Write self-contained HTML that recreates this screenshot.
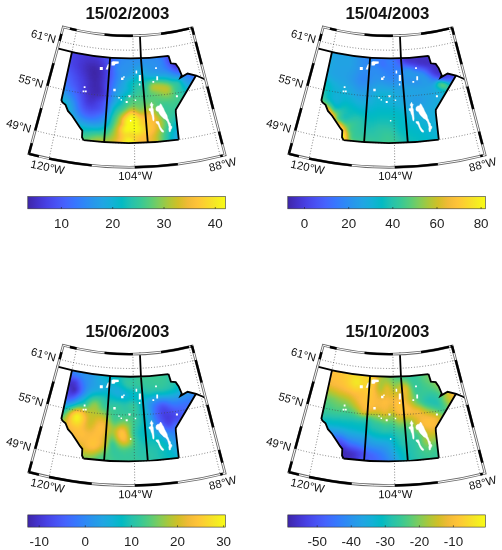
<!DOCTYPE html>
<html><head><meta charset="utf-8"><title>Maps</title><style>html,body{margin:0;padding:0;background:#fff}svg{display:block}</style></head><body>
<svg width="502" height="550" viewBox="0 0 502 550" font-family="&quot;Liberation Sans&quot;, sans-serif">
<defs>
<linearGradient id="pg" x1="0" x2="1" y1="0" y2="0"><stop offset="0%" stop-color="#3e26a8"/><stop offset="4.8%" stop-color="#4332cb"/><stop offset="9.5%" stop-color="#4741e5"/><stop offset="14.3%" stop-color="#4852f4"/><stop offset="19%" stop-color="#4563fd"/><stop offset="23.8%" stop-color="#3875fe"/><stop offset="28.6%" stop-color="#2e87f7"/><stop offset="33.3%" stop-color="#2797eb"/><stop offset="38.1%" stop-color="#20a5e3"/><stop offset="42.9%" stop-color="#12b1d6"/><stop offset="47.6%" stop-color="#02bac3"/><stop offset="52.4%" stop-color="#24c1ae"/><stop offset="57.1%" stop-color="#37c897"/><stop offset="61.9%" stop-color="#57cc7a"/><stop offset="66.7%" stop-color="#81cc59"/><stop offset="71.4%" stop-color="#abc739"/><stop offset="76.2%" stop-color="#d1bf27"/><stop offset="81%" stop-color="#f0ba36"/><stop offset="85.7%" stop-color="#fec338"/><stop offset="90.5%" stop-color="#fad62d"/><stop offset="95.2%" stop-color="#f5e924"/><stop offset="100%" stop-color="#f9fb15"/></linearGradient>
<filter id="cm" filterUnits="userSpaceOnUse" x="40" y="36" width="180" height="124" color-interpolation-filters="sRGB"><feGaussianBlur stdDeviation="1.6"/><feComponentTransfer><feFuncR type="table" tableValues="0.242 0.250 0.258 0.265 0.271 0.275 0.278 0.280 0.281 0.281 0.280 0.276 0.270 0.260 0.244 0.221 0.196 0.183 0.179 0.176 0.169 0.154 0.146 0.138 0.125 0.111 0.095 0.069 0.030 0.004 0.007 0.043 0.096 0.141 0.172 0.194 0.216 0.247 0.291 0.341 0.391 0.446 0.504 0.562 0.617 0.672 0.724 0.774 0.820 0.863 0.903 0.939 0.973 0.996 0.997 0.995 0.989 0.979 0.968 0.961 0.960 0.963 0.969 0.977"/><feFuncG type="table" tableValues="0.150 0.165 0.182 0.198 0.215 0.234 0.256 0.278 0.301 0.323 0.345 0.367 0.389 0.412 0.436 0.460 0.485 0.507 0.529 0.550 0.570 0.590 0.609 0.628 0.646 0.663 0.680 0.695 0.708 0.720 0.731 0.741 0.750 0.758 0.767 0.776 0.784 0.792 0.797 0.801 0.803 0.802 0.799 0.794 0.788 0.779 0.770 0.760 0.750 0.741 0.733 0.729 0.730 0.743 0.766 0.789 0.814 0.839 0.864 0.889 0.913 0.937 0.961 0.984"/><feFuncB type="table" tableValues="0.660 0.708 0.751 0.795 0.836 0.871 0.899 0.922 0.941 0.958 0.972 0.983 0.991 0.995 0.999 0.997 0.989 0.980 0.968 0.952 0.936 0.922 0.908 0.897 0.888 0.876 0.860 0.839 0.816 0.792 0.766 0.739 0.712 0.684 0.655 0.625 0.592 0.557 0.519 0.479 0.435 0.391 0.348 0.304 0.261 0.223 0.191 0.165 0.153 0.160 0.177 0.210 0.239 0.237 0.220 0.203 0.189 0.177 0.164 0.154 0.142 0.127 0.106 0.081"/><feFuncA type="linear" slope="0" intercept="1"/></feComponentTransfer></filter>
<clipPath id="pc"><path d="M72 51.8A273.3 273.3 0 0 0 168.5 55.8L170.9 63.3L175.7 63.9L178.7 68.1L181.7 75.2L180.5 77.6L187.6 73.5L196 75.5L175.8 109.7L175.8 112.7L178.8 139.6A358.4 358.4 0 0 1 83.5 140.2L82 137.2L82.3 130.6L79.9 127.6L76.9 122.9L72.1 115.7L67.9 110.9L65.5 104.9L62.5 102.5L61.4 100.2Z"/></clipPath>
<g id="ov">
<path d="M151.6 102.3L152.1 103.9L153.3 104.6L152.7 105.7L152.5 107.7L153.2 109.1L153.4 111.8L153.8 115.3L154.1 118.7L153.8 120.9L152.9 120.5L152.5 118L151.9 115.3L151.1 113.5L150.7 111.5L149.3 110.4L149 108.7L150.4 108.4L151.1 107.3L150.9 105.7L150 105.3L150.5 104.2ZM160.5 103.7L161.6 104.9L162.3 106.6L163.5 108.4L164.4 110.8L165.7 113.2L167 115.6L167.5 118L168.5 120.1L169.2 122.2L170.4 123.6L170.6 125.6L172 126.7L171.6 128.4L170.7 129.8L170.4 131.5L169.2 131.7L168.8 129.1L169 127L168.4 124.6L167.5 121.8L165.7 119.4L163.7 118.4L162.1 116.7L160.5 115.3L159.2 113.2L158.5 111.5L156.7 111.1L155.9 109.4L156.2 107.3L157.4 106.2L159.5 105.7ZM155.9 121.6L158.5 121.5L159.2 123.2L160.3 126.7L162.1 129.4L163.8 131L163.3 132.3L161.7 131.7L160.3 129.8L159.2 127.4L158 124.6L156.2 123Z" fill="#fff" stroke="#fff" stroke-width="0.5" stroke-linejoin="round"/><path d="M99.8 67h3v3h-3zM105.7 69.5L108 69.5L110 64.2L107.9 64.2ZM111.5 62L113 61.2L118.7 61.4L118.7 63.6L115.5 64L114.5 65.5L111.5 65.5ZM135.6 70.4h1.6v3h-1.6zM121.1 77.5h2.4v2.4h-2.4zM123.2 76.2h1.5v1.5h-1.5zM138.8 75.1h2.1v6h-2.1zM138.9 83.6h1.4v2h-1.4zM113.3 88.8h2.4v2.4h-2.4zM128.2 95.2h2.5v2h-2.5zM118.3 97.1h1.4v1.4h-1.4zM120.6 99.2h1.4v1.4h-1.4zM125.7 101h2v2h-2zM134.7 99.5h1.5v1.5h-1.5zM83.7 86.3h1.8v1.8h-1.8zM82.6 90.5h1.8v1.8h-1.8zM84.9 90.5h1.8v1.8h-1.8zM155.1 67.2h1.8v1.8h-1.8zM156.3 76.2h1.8v4h-1.8zM152.4 80.9h1.8v1.8h-1.8zM175.9 95.2h2v2h-2zM129.9 120h1.5v1.5h-1.5z" fill="#fff"/>
<path d="M76.6 30.2L49.1 158.7M132.9 35.8L134.8 167.2M189 28.6L220.3 156.2M59.6 40.9A265.6 265.6 0 0 0 195.7 41.7M47.4 85.7A312 312 0 0 0 207.4 86.6M35.2 130.5A358.4 358.4 0 0 0 219 131.6" fill="none" stroke="#444" stroke-width="0.7" stroke-dasharray="0.9 1.9"/>
<path d="M56.5 48.1A273.3 273.3 0 0 0 168.5 55.8M168.5 55.8L170.9 63.3L175.7 63.9L178.7 68.1L181.7 75.2L180.5 77.6L187.6 73.5L196 75.5L175.8 109.7L175.8 112.7L178.8 139.6M178.8 139.6A358.4 358.4 0 0 1 83.5 140.2M83.5 140.2L82 137.2L82.3 130.6L79.9 127.6L76.9 122.9L72.1 115.7L67.9 110.9L65.5 104.9L62.5 102.5L61.4 100.2L72 51.8M110.1 57.2L104.1 142.2M139.9 34.4L140.9 57.6L147.8 142.6M196 75.5L202.6 78.2L205.9 80" fill="none" stroke="#000" stroke-width="1.8" stroke-linejoin="miter" stroke-linecap="butt"/>
<path d="M63.3 27A251.2 251.2 0 0 0 192.1 27.8L225.1 155A382.6 382.6 0 0 1 28.9 153.8Z" fill="none" stroke="#6a6a6a" stroke-width="2.7"/>
<path d="M63.3 27A251.2 251.2 0 0 0 69.9 28.7M76.6 30.2A251.2 251.2 0 0 0 104.6 34.6M132.9 35.8A251.2 251.2 0 0 0 161.1 33.8M189 28.6A251.2 251.2 0 0 0 190.6 28.2M38.9 156.4A382.6 382.6 0 0 0 49.1 158.7M91.7 165.4A382.6 382.6 0 0 0 134.8 167.2M177.8 164.1A382.6 382.6 0 0 0 220.3 156.2M222.7 155.6A382.6 382.6 0 0 0 225.1 155M31.8 143.2L35.2 130.5M41.3 108.1L47.4 85.7M53.5 63.3L59.6 40.9M61.4 33.9L63.3 27M225.1 155L222.3 144.3M219 131.6L213.2 109.1M207.4 86.6L201.6 64.2M195.7 41.7L193.9 34.7" fill="none" stroke="#fff" stroke-width="1.0"/>
<path d="M69.9 28.7A251.2 251.2 0 0 0 76.6 30.2M104.6 34.6A251.2 251.2 0 0 0 132.9 35.8M161.1 33.8A251.2 251.2 0 0 0 189 28.6M190.6 28.2A251.2 251.2 0 0 0 192.1 27.8M28.9 153.8A382.6 382.6 0 0 0 38.9 156.4M49.1 158.7A382.6 382.6 0 0 0 91.7 165.4M134.8 167.2A382.6 382.6 0 0 0 177.8 164.1M220.3 156.2A382.6 382.6 0 0 0 222.7 155.6M28.9 153.8L31.8 143.2M35.2 130.5L41.3 108.1M47.4 85.7L53.5 63.3M59.6 40.9L61.4 33.9M222.3 144.3L219 131.6M213.2 109.1L207.4 86.6M201.6 64.2L195.7 41.7M193.9 34.7L192.1 27.8" fill="none" stroke="#000" stroke-width="2.4"/>
<g font-size="11.4" fill="#111"><text transform="translate(47.3,166.9) rotate(12.1)" text-anchor="middle" x="0.4" y="4.1">120°W</text><text transform="translate(134.9,175.6) rotate(-0.8)" text-anchor="middle" x="0.4" y="4.1">104°W</text><text transform="translate(222.3,164.4) rotate(-13.8)" text-anchor="middle" x="0.4" y="4.1">88°W</text><text transform="translate(55.7,39.8) rotate(15.4)" text-anchor="end" y="3.8">61°N</text><text transform="translate(43.3,84.6) rotate(15.4)" text-anchor="end" y="3.8">55°N</text><text transform="translate(31,129.3) rotate(15.4)" text-anchor="end" y="3.8">49°N</text></g>
<rect x="27.8" y="196.6" width="197.5" height="12.2" fill="url(#pg)" stroke="#333" stroke-width="0.6"/>
</g>
</defs>
<rect width="502" height="550" fill="#fff"/>
<g transform="translate(0,0)">
<g clip-path="url(#pc)"><g filter="url(#cm)" stroke-width="3.6" fill="none"><rect x="40" y="36" width="180" height="124" fill="#808080"/><path stroke="#000000" d="M174 46.5h3.6M171 49.5h3.6M174 49.5h3.6M171 52.5h3.6M174 52.5h3.6M177 52.5h3.6M174 55.5h3.6M177 55.5h3.6M180 55.5h3.6M183 55.5h3.6M174 58.5h3.6M177 58.5h3.6M180 58.5h3.6M183 58.5h3.6M177 61.5h3.6M180 61.5h3.6M183 61.5h3.6M186 61.5h3.6M93 70.5h3.6M93 73.5h3.6M93 76.5h3.6"/><path stroke="#010101" d="M90 70.5h3.6M90 73.5h3.6M96 73.5h3.6M93 79.5h3.6"/><path stroke="#020202" d="M171 55.5h3.6M90 67.5h3.6M93 67.5h3.6M96 70.5h3.6M90 76.5h3.6M96 76.5h3.6M96 79.5h3.6M93 82.5h3.6M93 85.5h3.6M93 88.5h3.6"/><path stroke="#030303" d="M174 61.5h3.6M90 79.5h3.6M96 82.5h3.6M96 85.5h3.6M96 88.5h3.6M93 91.5h3.6M96 91.5h3.6"/><path stroke="#040404" d="M96 67.5h3.6M87 70.5h3.6M90 82.5h3.6M90 85.5h3.6"/><path stroke="#050505" d="M168 49.5h3.6M180 64.5h3.6M183 64.5h3.6M186 64.5h3.6M87 67.5h3.6M87 73.5h3.6M90 88.5h3.6M90 91.5h3.6"/><path stroke="#060606" d="M90 64.5h3.6M93 64.5h3.6M177 64.5h3.6M99 70.5h3.6M99 73.5h3.6M87 76.5h3.6M99 76.5h3.6M99 88.5h3.6M99 91.5h3.6M93 94.5h3.6M96 94.5h3.6"/><path stroke="#070707" d="M171 58.5h3.6M87 64.5h3.6M201 67.5h3.6M99 79.5h3.6M99 82.5h3.6M99 85.5h3.6M90 94.5h3.6"/><path stroke="#080808" d="M96 64.5h3.6M87 79.5h3.6"/><path stroke="#090909" d="M84 67.5h3.6M99 67.5h3.6M84 70.5h3.6M87 82.5h3.6M87 85.5h3.6M87 88.5h3.6M99 94.5h3.6"/><path stroke="#0a0a0a" d="M168 52.5h3.6M90 61.5h3.6M93 61.5h3.6M84 64.5h3.6M84 73.5h3.6M87 91.5h3.6M90 97.5h3.6M93 97.5h3.6"/><path stroke="#0b0b0b" d="M165 46.5h3.6M87 61.5h3.6M174 64.5h3.6M198 67.5h3.6M87 94.5h3.6"/><path stroke="#0c0c0c" d="M96 61.5h3.6M99 64.5h3.6M102 73.5h3.6M84 76.5h3.6M87 97.5h3.6M96 97.5h3.6"/><path stroke="#0d0d0d" d="M90 58.5h3.6M84 61.5h3.6M171 61.5h3.6M81 67.5h3.6M102 70.5h3.6M102 76.5h3.6M90 100.5h3.6"/><path stroke="#0e0e0e" d="M87 58.5h3.6M93 58.5h3.6M81 64.5h3.6M195 67.5h3.6M81 70.5h3.6M84 79.5h3.6M102 79.5h3.6M102 91.5h3.6"/><path stroke="#0f0f0f" d="M168 55.5h3.6M84 58.5h3.6M81 61.5h3.6M81 73.5h3.6M84 82.5h3.6M102 82.5h3.6M84 85.5h3.6M102 85.5h3.6M84 88.5h3.6M102 88.5h3.6M102 94.5h3.6M99 97.5h3.6M87 100.5h3.6M93 100.5h3.6"/><path stroke="#101010" d="M96 58.5h3.6M99 61.5h3.6M102 67.5h3.6M84 91.5h3.6"/><path stroke="#111111" d="M84 55.5h3.6M87 55.5h3.6M90 55.5h3.6M93 55.5h3.6M81 58.5h3.6M78 64.5h3.6M78 67.5h3.6M192 67.5h3.6M84 94.5h3.6"/><path stroke="#121212" d="M165 49.5h3.6M78 61.5h3.6M201 70.5h3.6M81 76.5h3.6M87 103.5h3.6M90 103.5h3.6"/><path stroke="#131313" d="M84 52.5h3.6M87 52.5h3.6M90 52.5h3.6M81 55.5h3.6M78 58.5h3.6M102 64.5h3.6M180 67.5h3.6M183 67.5h3.6M186 67.5h3.6M189 67.5h3.6M78 70.5h3.6M84 97.5h3.6M96 100.5h3.6"/><path stroke="#141414" d="M84 49.5h3.6M87 49.5h3.6M81 52.5h3.6M93 52.5h3.6M78 55.5h3.6M96 55.5h3.6M99 58.5h3.6M168 58.5h3.6M75 64.5h3.6M177 67.5h3.6M81 79.5h3.6M93 103.5h3.6"/><path stroke="#151515" d="M81 46.5h3.6M84 46.5h3.6M87 46.5h3.6M81 49.5h3.6M90 49.5h3.6M78 52.5h3.6M75 58.5h3.6M75 61.5h3.6M75 67.5h3.6M78 73.5h3.6M81 82.5h3.6M102 97.5h3.6M84 100.5h3.6"/><path stroke="#161616" d="M78 46.5h3.6M90 46.5h3.6M78 49.5h3.6M93 49.5h3.6M96 52.5h3.6M75 55.5h3.6M171 64.5h3.6M105 73.5h3.6M81 85.5h3.6"/><path stroke="#171717" d="M75 46.5h3.6M93 46.5h3.6M75 49.5h3.6M75 52.5h3.6M99 55.5h3.6M72 61.5h3.6M102 61.5h3.6M174 67.5h3.6M105 70.5h3.6M198 70.5h3.6M78 76.5h3.6M81 88.5h3.6M99 100.5h3.6M90 106.5h3.6"/><path stroke="#181818" d="M96 49.5h3.6M165 52.5h3.6M72 55.5h3.6M72 58.5h3.6M72 64.5h3.6M75 70.5h3.6M105 76.5h3.6M81 91.5h3.6M84 103.5h3.6M87 106.5h3.6"/><path stroke="#191919" d="M72 46.5h3.6M96 46.5h3.6M72 49.5h3.6M72 52.5h3.6M78 79.5h3.6M96 103.5h3.6M93 106.5h3.6"/><path stroke="#1a1a1a" d="M99 52.5h3.6M102 58.5h3.6M72 67.5h3.6M105 67.5h3.6M75 73.5h3.6M105 79.5h3.6M81 94.5h3.6"/><path stroke="#1b1b1b" d="M69 46.5h3.6M69 49.5h3.6M99 49.5h3.6M69 52.5h3.6M69 55.5h3.6M69 58.5h3.6M69 61.5h3.6M168 61.5h3.6M78 82.5h3.6M105 82.5h3.6"/><path stroke="#1c1c1c" d="M99 46.5h3.6M69 64.5h3.6M195 70.5h3.6M105 85.5h3.6M105 88.5h3.6M105 91.5h3.6M105 94.5h3.6M81 97.5h3.6M96 106.5h3.6"/><path stroke="#1d1d1d" d="M66 46.5h3.6M162 49.5h3.6M102 55.5h3.6M105 64.5h3.6M72 70.5h3.6M75 76.5h3.6M78 85.5h3.6M84 106.5h3.6"/><path stroke="#1e1e1e" d="M66 49.5h3.6M66 52.5h3.6M102 52.5h3.6M66 55.5h3.6M165 55.5h3.6M102 100.5h3.6M99 103.5h3.6M90 109.5h3.6"/><path stroke="#1f1f1f" d="M66 58.5h3.6M105 61.5h3.6M69 67.5h3.6M192 70.5h3.6M75 79.5h3.6M78 88.5h3.6M81 100.5h3.6M87 109.5h3.6M93 109.5h3.6"/><path stroke="#202020" d="M63 46.5h3.6M102 49.5h3.6M66 61.5h3.6M72 73.5h3.6"/><path stroke="#212121" d="M63 49.5h3.6M63 52.5h3.6M66 64.5h3.6M99 106.5h3.6"/><path stroke="#222222" d="M63 55.5h3.6M105 58.5h3.6M171 67.5h3.6M69 70.5h3.6M189 70.5h3.6M75 82.5h3.6M78 91.5h3.6M81 103.5h3.6M96 109.5h3.6"/><path stroke="#232323" d="M105 55.5h3.6M63 58.5h3.6M108 70.5h3.6M108 73.5h3.6M198 73.5h3.6M72 76.5h3.6M105 97.5h3.6"/><path stroke="#242424" d="M105 49.5h3.6M105 52.5h3.6M165 58.5h3.6M168 64.5h3.6M66 67.5h3.6M186 70.5h3.6M108 76.5h3.6M75 85.5h3.6M78 94.5h3.6M84 109.5h3.6"/><path stroke="#252525" d="M60 52.5h3.6M162 52.5h3.6M63 61.5h3.6M180 70.5h3.6M183 70.5h3.6M72 79.5h3.6M102 103.5h3.6M99 109.5h3.6"/><path stroke="#262626" d="M108 67.5h3.6M177 70.5h3.6M69 73.5h3.6M81 106.5h3.6"/><path stroke="#272727" d="M60 55.5h3.6M63 64.5h3.6M108 79.5h3.6M75 88.5h3.6M87 112.5h3.6M90 112.5h3.6"/><path stroke="#282828" d="M156 46.5h3.6M159 49.5h3.6M60 58.5h3.6M108 64.5h3.6M66 70.5h3.6M201 76.5h3.6M72 82.5h3.6M78 97.5h3.6M102 106.5h3.6M93 112.5h3.6"/><path stroke="#292929" d="M195 73.5h3.6M69 76.5h3.6"/><path stroke="#2a2a2a" d="M108 49.5h3.6M60 61.5h3.6M108 61.5h3.6M63 67.5h3.6M108 82.5h3.6"/><path stroke="#2b2b2b" d="M108 52.5h3.6M108 55.5h3.6M108 58.5h3.6M165 61.5h3.6M174 70.5h3.6M66 73.5h3.6M72 85.5h3.6M75 91.5h3.6M78 100.5h3.6M96 112.5h3.6"/><path stroke="#2c2c2c" d="M69 79.5h3.6M108 85.5h3.6M105 100.5h3.6M81 109.5h3.6M102 109.5h3.6M84 112.5h3.6"/><path stroke="#2d2d2d" d="M60 64.5h3.6M63 70.5h3.6"/><path stroke="#2e2e2e" d="M162 55.5h3.6M192 73.5h3.6M108 88.5h3.6"/><path stroke="#2f2f2f" d="M66 76.5h3.6M198 76.5h3.6M69 82.5h3.6M78 103.5h3.6M99 112.5h3.6"/><path stroke="#303030" d="M111 49.5h3.6M156 49.5h3.6M60 67.5h3.6M168 67.5h3.6M72 88.5h3.6M75 94.5h3.6"/><path stroke="#313131" d="M111 52.5h3.6M159 52.5h3.6M111 70.5h3.6M63 73.5h3.6M111 73.5h3.6M108 91.5h3.6M90 115.5h3.6"/><path stroke="#323232" d="M189 73.5h3.6M111 76.5h3.6M66 79.5h3.6M201 79.5h3.6M69 85.5h3.6M87 115.5h3.6"/><path stroke="#333333" d="M111 55.5h3.6M57 64.5h3.6M165 64.5h3.6M111 67.5h3.6M60 70.5h3.6M78 106.5h3.6M81 112.5h3.6M93 115.5h3.6"/><path stroke="#343434" d="M111 58.5h3.6M111 61.5h3.6M111 64.5h3.6M171 70.5h3.6M105 103.5h3.6"/><path stroke="#353535" d="M114 49.5h3.6M186 73.5h3.6M63 76.5h3.6M195 76.5h3.6M111 79.5h3.6M72 91.5h3.6M108 94.5h3.6M75 97.5h3.6"/><path stroke="#363636" d="M153 49.5h3.6M162 58.5h3.6M57 67.5h3.6M66 82.5h3.6M102 112.5h3.6M84 115.5h3.6"/><path stroke="#373737" d="M60 73.5h3.6M69 88.5h3.6M78 109.5h3.6M96 115.5h3.6"/><path stroke="#383838" d="M114 52.5h3.6M183 73.5h3.6"/><path stroke="#393939" d="M156 52.5h3.6M63 79.5h3.6M198 79.5h3.6M111 82.5h3.6M75 100.5h3.6M105 106.5h3.6"/><path stroke="#3a3a3a" d="M117 49.5h3.6M150 49.5h3.6M114 55.5h3.6M159 55.5h3.6M57 70.5h3.6M180 73.5h3.6M66 85.5h3.6M108 97.5h3.6"/><path stroke="#3b3b3b" d="M60 76.5h3.6M192 76.5h3.6M72 94.5h3.6M99 115.5h3.6"/><path stroke="#3c3c3c" d="M165 67.5h3.6"/><path stroke="#3d3d3d" d="M120 49.5h3.6M147 49.5h3.6M117 52.5h3.6M114 58.5h3.6M162 61.5h3.6M177 73.5h3.6M63 82.5h3.6M111 85.5h3.6M105 109.5h3.6M81 115.5h3.6"/><path stroke="#3e3e3e" d="M153 52.5h3.6M114 61.5h3.6M57 73.5h3.6M69 91.5h3.6M75 103.5h3.6M78 112.5h3.6M90 118.5h3.6"/><path stroke="#3f3f3f" d="M144 49.5h3.6M168 70.5h3.6M114 73.5h3.6M66 88.5h3.6M87 118.5h3.6M93 118.5h3.6"/><path stroke="#404040" d="M123 49.5h3.6M117 55.5h3.6M114 64.5h3.6M114 76.5h3.6M60 79.5h3.6M195 79.5h3.6M108 100.5h3.6"/><path stroke="#414141" d="M141 49.5h3.6M120 52.5h3.6M150 52.5h3.6M156 55.5h3.6M162 64.5h3.6M114 67.5h3.6M114 70.5h3.6M174 73.5h3.6M189 76.5h3.6M63 85.5h3.6M111 88.5h3.6M72 97.5h3.6M75 106.5h3.6"/><path stroke="#424242" d="M126 49.5h3.6M135 49.5h3.6M138 49.5h3.6M57 76.5h3.6M198 82.5h3.6M201 85.5h3.6M102 115.5h3.6M96 118.5h3.6"/><path stroke="#434343" d="M129 49.5h3.6M132 49.5h3.6M117 58.5h3.6M159 58.5h3.6M114 79.5h3.6M84 118.5h3.6"/><path stroke="#444444" d="M123 52.5h3.6M147 52.5h3.6M60 82.5h3.6"/><path stroke="#454545" d="M144 52.5h3.6M120 55.5h3.6M153 55.5h3.6M186 76.5h3.6M69 94.5h3.6M75 109.5h3.6"/><path stroke="#464646" d="M126 52.5h3.6M138 52.5h3.6M141 52.5h3.6M117 61.5h3.6M162 67.5h3.6M192 79.5h3.6M114 82.5h3.6M66 91.5h3.6M111 91.5h3.6M105 112.5h3.6M78 115.5h3.6M99 118.5h3.6"/><path stroke="#474747" d="M129 52.5h3.6M132 52.5h3.6M135 52.5h3.6M57 79.5h3.6M63 88.5h3.6"/><path stroke="#484848" d="M123 55.5h3.6M150 55.5h3.6M159 61.5h3.6M165 70.5h3.6M171 73.5h3.6M201 88.5h3.6M72 100.5h3.6M108 103.5h3.6"/><path stroke="#494949" d="M147 55.5h3.6M120 58.5h3.6M156 58.5h3.6M117 64.5h3.6M195 82.5h3.6M81 118.5h3.6"/><path stroke="#4a4a4a" d="M126 55.5h3.6M138 55.5h3.6M141 55.5h3.6M144 55.5h3.6M159 64.5h3.6M183 76.5h3.6M60 85.5h3.6M114 85.5h3.6M198 85.5h3.6M75 112.5h3.6"/><path stroke="#4b4b4b" d="M129 55.5h3.6M132 55.5h3.6M135 55.5h3.6M153 58.5h3.6M117 73.5h3.6M117 76.5h3.6"/><path stroke="#4c4c4c" d="M123 58.5h3.6M120 61.5h3.6M117 67.5h3.6M159 67.5h3.6M57 82.5h3.6M90 121.5h3.6M93 121.5h3.6"/><path stroke="#4d4d4d" d="M147 58.5h3.6M150 58.5h3.6M156 61.5h3.6M117 70.5h3.6M162 70.5h3.6M189 79.5h3.6M111 94.5h3.6M69 97.5h3.6M72 103.5h3.6M102 118.5h3.6M96 121.5h3.6"/><path stroke="#4e4e4e" d="M126 58.5h3.6M135 58.5h3.6M138 58.5h3.6M141 58.5h3.6M144 58.5h3.6M120 64.5h3.6M54 79.5h3.6M117 79.5h3.6M87 121.5h3.6"/><path stroke="#4f4f4f" d="M129 58.5h3.6M132 58.5h3.6M123 61.5h3.6M153 61.5h3.6M156 64.5h3.6M180 76.5h3.6M114 88.5h3.6M63 91.5h3.6M66 94.5h3.6"/><path stroke="#505050" d="M126 61.5h3.6M150 61.5h3.6M123 64.5h3.6M120 67.5h3.6M156 67.5h3.6M192 82.5h3.6M60 88.5h3.6M198 88.5h3.6M111 97.5h3.6M108 106.5h3.6M99 121.5h3.6M186 139.5h3.6"/><path stroke="#515151" d="M129 61.5h3.6M132 61.5h3.6M135 61.5h3.6M138 61.5h3.6M141 61.5h3.6M144 61.5h3.6M147 61.5h3.6M126 64.5h3.6M153 64.5h3.6M120 70.5h3.6M159 70.5h3.6M120 73.5h3.6M168 73.5h3.6M195 85.5h3.6M72 106.5h3.6M78 118.5h3.6M84 121.5h3.6"/><path stroke="#525252" d="M129 64.5h3.6M150 64.5h3.6M123 67.5h3.6M126 67.5h3.6M153 67.5h3.6M123 70.5h3.6M186 79.5h3.6M117 82.5h3.6M57 85.5h3.6M75 115.5h3.6M105 115.5h3.6"/><path stroke="#535353" d="M126 70.5h3.6M156 70.5h3.6M123 73.5h3.6M120 76.5h3.6M186 148.5h3.6"/><path stroke="#545454" d="M132 64.5h3.6M147 64.5h3.6M129 67.5h3.6M150 67.5h3.6M126 73.5h3.6M54 82.5h3.6M111 100.5h3.6M72 109.5h3.6M183 139.5h3.6"/><path stroke="#555555" d="M135 64.5h3.6M144 64.5h3.6M153 70.5h3.6M177 76.5h3.6M114 91.5h3.6M69 100.5h3.6M183 142.5h3.6"/><path stroke="#565656" d="M138 64.5h3.6M141 64.5h3.6M147 67.5h3.6M129 70.5h3.6M150 70.5h3.6M165 73.5h3.6M189 82.5h3.6M117 85.5h3.6M198 91.5h3.6M183 136.5h3.6M183 145.5h3.6"/><path stroke="#575757" d="M132 67.5h3.6M123 76.5h3.6M120 79.5h3.6M108 109.5h3.6M81 121.5h3.6M102 121.5h3.6"/><path stroke="#585858" d="M129 73.5h3.6M162 73.5h3.6M174 76.5h3.6M192 85.5h3.6M195 88.5h3.6M60 91.5h3.6M63 94.5h3.6M66 97.5h3.6M72 112.5h3.6M186 130.5h3.6M183 133.5h3.6"/><path stroke="#595959" d="M144 67.5h3.6M147 70.5h3.6M159 73.5h3.6M126 76.5h3.6M183 79.5h3.6M57 88.5h3.6M180 139.5h3.6M183 148.5h3.6"/><path stroke="#5a5a5a" d="M135 67.5h3.6M156 73.5h3.6M171 76.5h3.6M54 85.5h3.6M117 88.5h3.6M114 94.5h3.6M93 124.5h3.6M180 136.5h3.6M180 142.5h3.6"/><path stroke="#5b5b5b" d="M141 67.5h3.6M132 70.5h3.6M153 73.5h3.6M120 82.5h3.6M75 118.5h3.6M90 124.5h3.6M96 124.5h3.6"/><path stroke="#5c5c5c" d="M138 67.5h3.6M150 73.5h3.6M186 82.5h3.6M69 103.5h3.6M105 118.5h3.6M183 130.5h3.6M180 145.5h3.6"/><path stroke="#5d5d5d" d="M111 103.5h3.6M87 124.5h3.6M180 133.5h3.6"/><path stroke="#5e5e5e" d="M144 70.5h3.6M129 76.5h3.6M123 79.5h3.6M195 91.5h3.6M114 97.5h3.6M72 115.5h3.6M78 121.5h3.6M99 124.5h3.6"/><path stroke="#5f5f5f" d="M147 73.5h3.6M120 85.5h3.6M189 85.5h3.6M117 91.5h3.6M108 112.5h3.6M177 139.5h3.6M180 148.5h3.6"/><path stroke="#606060" d="M132 73.5h3.6M192 88.5h3.6M57 91.5h3.6M69 106.5h3.6M177 136.5h3.6"/><path stroke="#616161" d="M135 70.5h3.6M168 76.5h3.6M54 88.5h3.6M60 94.5h3.6M66 100.5h3.6M84 124.5h3.6M183 127.5h3.6M180 130.5h3.6M177 142.5h3.6"/><path stroke="#626262" d="M141 70.5h3.6M120 88.5h3.6M63 97.5h3.6M177 133.5h3.6"/><path stroke="#636363" d="M138 70.5h3.6M180 79.5h3.6M183 82.5h3.6M114 100.5h3.6M69 109.5h3.6M177 145.5h3.6"/><path stroke="#646464" d="M144 73.5h3.6M123 82.5h3.6M117 94.5h3.6M195 94.5h3.6M102 124.5h3.6"/><path stroke="#656565" d="M126 79.5h3.6M186 85.5h3.6M105 121.5h3.6M81 124.5h3.6"/><path stroke="#666666" d="M150 76.5h3.6M165 76.5h3.6M120 91.5h3.6M192 91.5h3.6M69 112.5h3.6M72 118.5h3.6M75 121.5h3.6M180 127.5h3.6"/><path stroke="#676767" d="M159 76.5h3.6M123 85.5h3.6M189 88.5h3.6M111 106.5h3.6M183 124.5h3.6M177 130.5h3.6M174 136.5h3.6M174 139.5h3.6M177 148.5h3.6"/><path stroke="#686868" d="M132 76.5h3.6M147 76.5h3.6M153 76.5h3.6M156 76.5h3.6M162 76.5h3.6M117 97.5h3.6M195 97.5h3.6M66 103.5h3.6"/><path stroke="#696969" d="M135 73.5h3.6M123 88.5h3.6M54 91.5h3.6M57 94.5h3.6M108 115.5h3.6M174 142.5h3.6"/><path stroke="#6a6a6a" d="M141 73.5h3.6M78 124.5h3.6M174 133.5h3.6"/><path stroke="#6b6b6b" d="M120 94.5h3.6M60 97.5h3.6M63 100.5h3.6M114 103.5h3.6M69 115.5h3.6M93 127.5h3.6M96 127.5h3.6"/><path stroke="#6c6c6c" d="M138 73.5h3.6M123 91.5h3.6M192 94.5h3.6M66 106.5h3.6M180 124.5h3.6M90 127.5h3.6M177 127.5h3.6M174 145.5h3.6"/><path stroke="#6d6d6d" d="M144 76.5h3.6M129 79.5h3.6M183 85.5h3.6M117 100.5h3.6M183 121.5h3.6M87 127.5h3.6M99 127.5h3.6"/><path stroke="#6e6e6e" d="M177 79.5h3.6M126 82.5h3.6M186 88.5h3.6M189 91.5h3.6M174 130.5h3.6"/><path stroke="#6f6f6f" d="M171 79.5h3.6M126 88.5h3.6M72 121.5h3.6"/><path stroke="#707070" d="M126 85.5h3.6M192 97.5h3.6M66 109.5h3.6M111 109.5h3.6M105 124.5h3.6M84 127.5h3.6M174 148.5h3.6"/><path stroke="#717171" d="M135 76.5h3.6M174 79.5h3.6M180 82.5h3.6M126 91.5h3.6M54 94.5h3.6M120 97.5h3.6M69 118.5h3.6M75 124.5h3.6M171 136.5h3.6M171 139.5h3.6"/><path stroke="#727272" d="M141 76.5h3.6M123 94.5h3.6M57 97.5h3.6M63 103.5h3.6M108 118.5h3.6M180 121.5h3.6M177 124.5h3.6"/><path stroke="#737373" d="M132 79.5h3.6M60 100.5h3.6M192 100.5h3.6M66 112.5h3.6M183 118.5h3.6M81 127.5h3.6M102 127.5h3.6M174 127.5h3.6M171 133.5h3.6M171 142.5h3.6"/><path stroke="#747474" d="M189 94.5h3.6M192 103.5h3.6"/><path stroke="#757575" d="M138 76.5h3.6M168 79.5h3.6M117 103.5h3.6"/><path stroke="#767676" d="M129 82.5h3.6M183 88.5h3.6M186 91.5h3.6M114 106.5h3.6M171 145.5h3.6"/><path stroke="#777777" d="M120 100.5h3.6M63 106.5h3.6M111 112.5h3.6M66 115.5h3.6M177 121.5h3.6M78 127.5h3.6M171 130.5h3.6"/><path stroke="#787878" d="M144 79.5h3.6M147 79.5h3.6M129 85.5h3.6M129 88.5h3.6M129 91.5h3.6M180 118.5h3.6M72 124.5h3.6M174 124.5h3.6"/><path stroke="#797979" d="M135 79.5h3.6M126 94.5h3.6M54 97.5h3.6M189 97.5h3.6M186 112.5h3.6M183 115.5h3.6M69 121.5h3.6M108 121.5h3.6"/><path stroke="#7a7a7a" d="M141 79.5h3.6M57 100.5h3.6M60 103.5h3.6M189 106.5h3.6M63 109.5h3.6M171 148.5h3.6"/><path stroke="#7b7b7b" d="M138 79.5h3.6M165 79.5h3.6M180 85.5h3.6"/><path stroke="#7c7c7c" d="M150 79.5h3.6M132 82.5h3.6M123 97.5h3.6M189 100.5h3.6M189 103.5h3.6M66 118.5h3.6M75 127.5h3.6M171 127.5h3.6"/><path stroke="#7d7d7d" d="M186 94.5h3.6M177 118.5h3.6M174 121.5h3.6M105 127.5h3.6M87 130.5h3.6M90 130.5h3.6M93 130.5h3.6M96 130.5h3.6M168 136.5h3.6M168 139.5h3.6"/><path stroke="#7e7e7e" d="M162 79.5h3.6M183 91.5h3.6M186 109.5h3.6M63 112.5h3.6M180 115.5h3.6M84 130.5h3.6M99 130.5h3.6M168 133.5h3.6"/><path stroke="#7f7f7f" d="M159 79.5h3.6M120 103.5h3.6M60 106.5h3.6M117 106.5h3.6M114 109.5h3.6M183 112.5h3.6M168 142.5h3.6"/><path stroke="#808080" d="M153 79.5h3.6M156 79.5h3.6M135 82.5h3.6M132 85.5h3.6M111 115.5h3.6M81 130.5h3.6"/><path stroke="#818181" d="M138 82.5h3.6M141 82.5h3.6M180 88.5h3.6M129 94.5h3.6M54 100.5h3.6M57 103.5h3.6M69 124.5h3.6M108 124.5h3.6M171 124.5h3.6"/><path stroke="#828282" d="M132 88.5h3.6M186 97.5h3.6M186 106.5h3.6M63 115.5h3.6M174 118.5h3.6M66 121.5h3.6M72 127.5h3.6M78 130.5h3.6M168 130.5h3.6M168 145.5h3.6"/><path stroke="#838383" d="M144 82.5h3.6M60 109.5h3.6M177 115.5h3.6M102 130.5h3.6"/><path stroke="#848484" d="M177 82.5h3.6M132 91.5h3.6M183 94.5h3.6M123 100.5h3.6M186 100.5h3.6M186 103.5h3.6M183 109.5h3.6M180 112.5h3.6"/><path stroke="#858585" d="M180 91.5h3.6M171 121.5h3.6M168 148.5h3.6"/><path stroke="#868686" d="M135 85.5h3.6M63 118.5h3.6M75 130.5h3.6"/><path stroke="#878787" d="M138 85.5h3.6M141 85.5h3.6M126 97.5h3.6M57 106.5h3.6M120 106.5h3.6M60 112.5h3.6M168 127.5h3.6"/><path stroke="#888888" d="M171 82.5h3.6M54 103.5h3.6M183 106.5h3.6M114 112.5h3.6M177 112.5h3.6M174 115.5h3.6M111 118.5h3.6M171 118.5h3.6"/><path stroke="#898989" d="M174 82.5h3.6M183 97.5h3.6M123 103.5h3.6M117 109.5h3.6M180 109.5h3.6M66 124.5h3.6M69 127.5h3.6"/><path stroke="#8a8a8a" d="M144 85.5h3.6M177 88.5h3.6M132 94.5h3.6M180 94.5h3.6M165 136.5h3.6"/><path stroke="#8b8b8b" d="M177 85.5h3.6M135 88.5h3.6M141 88.5h3.6M183 103.5h3.6M57 109.5h3.6M60 115.5h3.6M168 124.5h3.6M105 130.5h3.6M81 133.5h3.6M84 133.5h3.6M165 133.5h3.6M165 139.5h3.6"/><path stroke="#8c8c8c" d="M147 82.5h3.6M138 88.5h3.6M177 91.5h3.6M183 100.5h3.6M174 112.5h3.6M171 115.5h3.6M63 121.5h3.6M108 127.5h3.6M72 130.5h3.6M87 133.5h3.6"/><path stroke="#8d8d8d" d="M144 88.5h3.6M135 91.5h3.6M54 106.5h3.6M180 106.5h3.6M177 109.5h3.6M78 133.5h3.6M165 142.5h3.6"/><path stroke="#8e8e8e" d="M168 82.5h3.6M111 121.5h3.6M168 121.5h3.6M90 133.5h3.6"/><path stroke="#8f8f8f" d="M138 91.5h3.6M141 91.5h3.6M177 94.5h3.6M129 97.5h3.6M180 97.5h3.6M168 118.5h3.6M165 130.5h3.6M93 133.5h3.6M165 145.5h3.6"/><path stroke="#909090" d="M135 94.5h3.6M123 106.5h3.6M177 106.5h3.6M174 109.5h3.6M57 112.5h3.6M171 112.5h3.6M168 115.5h3.6M60 118.5h3.6M96 133.5h3.6"/><path stroke="#919191" d="M174 85.5h3.6M174 88.5h3.6M144 91.5h3.6M126 100.5h3.6M180 103.5h3.6M162 109.5h3.6M165 109.5h3.6M168 112.5h3.6M114 115.5h3.6M66 127.5h3.6M75 133.5h3.6M99 133.5h3.6"/><path stroke="#929292" d="M180 100.5h3.6M162 106.5h3.6M165 106.5h3.6M54 109.5h3.6M120 109.5h3.6M168 109.5h3.6M171 109.5h3.6M165 112.5h3.6M63 124.5h3.6M69 130.5h3.6M102 133.5h3.6M165 148.5h3.6"/><path stroke="#939393" d="M138 94.5h3.6M141 94.5h3.6M177 97.5h3.6M126 103.5h3.6M177 103.5h3.6M168 106.5h3.6M174 106.5h3.6"/><path stroke="#949494" d="M174 91.5h3.6M132 97.5h3.6M171 106.5h3.6M162 112.5h3.6M57 115.5h3.6M165 127.5h3.6"/><path stroke="#959595" d="M144 94.5h3.6M177 100.5h3.6M162 103.5h3.6M165 103.5h3.6M174 103.5h3.6M159 106.5h3.6M159 109.5h3.6M117 112.5h3.6M165 115.5h3.6M60 121.5h3.6M111 124.5h3.6M72 133.5h3.6"/><path stroke="#969696" d="M165 82.5h3.6M174 94.5h3.6M135 97.5h3.6M168 103.5h3.6M171 103.5h3.6M81 136.5h3.6"/><path stroke="#979797" d="M138 97.5h3.6M141 97.5h3.6M174 97.5h3.6M174 100.5h3.6M159 103.5h3.6M54 112.5h3.6M165 118.5h3.6M108 130.5h3.6M105 133.5h3.6M78 136.5h3.6M84 136.5h3.6"/><path stroke="#989898" d="M150 82.5h3.6M171 85.5h3.6M144 97.5h3.6M57 118.5h3.6M165 124.5h3.6M66 130.5h3.6M162 136.5h3.6"/><path stroke="#999999" d="M147 94.5h3.6M171 100.5h3.6M159 112.5h3.6M165 121.5h3.6M87 136.5h3.6M162 139.5h3.6"/><path stroke="#9a9a9a" d="M162 82.5h3.6M147 85.5h3.6M147 97.5h3.6M168 100.5h3.6M156 103.5h3.6M126 106.5h3.6M114 118.5h3.6M69 133.5h3.6M162 133.5h3.6M75 136.5h3.6"/><path stroke="#9b9b9b" d="M147 91.5h3.6M129 100.5h3.6M132 100.5h3.6M135 100.5h3.6M138 100.5h3.6M141 100.5h3.6M159 100.5h3.6M162 100.5h3.6M165 100.5h3.6M129 103.5h3.6M156 106.5h3.6M162 115.5h3.6M162 142.5h3.6"/><path stroke="#9c9c9c" d="M171 97.5h3.6M144 100.5h3.6M156 100.5h3.6M123 109.5h3.6"/><path stroke="#9d9d9d" d="M159 82.5h3.6M147 88.5h3.6M171 88.5h3.6M150 97.5h3.6M147 100.5h3.6M153 100.5h3.6M111 127.5h3.6M90 136.5h3.6M162 145.5h3.6"/><path stroke="#9e9e9e" d="M150 94.5h3.6M153 97.5h3.6M150 100.5h3.6M72 136.5h3.6"/><path stroke="#9f9f9f" d="M153 82.5h3.6M156 82.5h3.6M171 94.5h3.6M156 97.5h3.6M132 103.5h3.6M135 103.5h3.6M138 103.5h3.6M141 103.5h3.6M153 103.5h3.6M156 109.5h3.6M162 130.5h3.6M162 148.5h3.6"/><path stroke="#a0a0a0" d="M171 91.5h3.6M159 97.5h3.6M108 133.5h3.6M93 136.5h3.6M81 139.5h3.6"/><path stroke="#a1a1a1" d="M153 94.5h3.6M168 97.5h3.6M144 103.5h3.6M120 112.5h3.6M117 115.5h3.6M114 121.5h3.6M102 136.5h3.6M78 139.5h3.6M84 139.5h3.6"/><path stroke="#a2a2a2" d="M162 97.5h3.6M150 103.5h3.6M138 106.5h3.6M162 118.5h3.6"/><path stroke="#a3a3a3" d="M165 97.5h3.6M147 103.5h3.6M129 106.5h3.6M153 106.5h3.6M96 136.5h3.6M99 136.5h3.6M105 136.5h3.6"/><path stroke="#a4a4a4" d="M168 85.5h3.6M156 94.5h3.6M141 106.5h3.6M162 127.5h3.6M75 139.5h3.6M87 139.5h3.6"/><path stroke="#a5a5a5" d="M135 106.5h3.6M159 115.5h3.6"/><path stroke="#a6a6a6" d="M150 91.5h3.6M162 121.5h3.6M111 130.5h3.6"/><path stroke="#a7a7a7" d="M159 94.5h3.6M132 106.5h3.6M156 112.5h3.6M162 124.5h3.6M159 136.5h3.6M72 139.5h3.6"/><path stroke="#a8a8a8" d="M144 106.5h3.6M114 124.5h3.6M159 139.5h3.6"/><path stroke="#a9a9a9" d="M168 94.5h3.6M150 106.5h3.6M138 109.5h3.6M159 133.5h3.6M90 139.5h3.6"/><path stroke="#aaaaaa" d="M153 91.5h3.6M126 109.5h3.6M108 136.5h3.6M81 142.5h3.6M159 142.5h3.6"/><path stroke="#ababab" d="M147 106.5h3.6M141 109.5h3.6M153 109.5h3.6M78 142.5h3.6"/><path stroke="#acacac" d="M162 94.5h3.6M117 118.5h3.6M84 142.5h3.6M159 145.5h3.6"/><path stroke="#adadad" d="M111 133.5h3.6M75 142.5h3.6M159 148.5h3.6"/><path stroke="#aeaeae" d="M165 94.5h3.6M93 139.5h3.6M102 139.5h3.6M105 139.5h3.6"/><path stroke="#afafaf" d="M165 85.5h3.6M156 91.5h3.6M123 112.5h3.6M159 130.5h3.6M87 142.5h3.6"/><path stroke="#b0b0b0" d="M150 85.5h3.6M168 91.5h3.6M135 109.5h3.6M159 118.5h3.6M72 142.5h3.6"/><path stroke="#b1b1b1" d="M114 127.5h3.6"/><path stroke="#b2b2b2" d="M168 88.5h3.6M159 91.5h3.6M144 109.5h3.6M96 139.5h3.6M99 139.5h3.6"/><path stroke="#b3b3b3" d="M162 85.5h3.6M120 115.5h3.6M117 121.5h3.6M108 139.5h3.6"/><path stroke="#b4b4b4" d="M150 88.5h3.6M150 109.5h3.6M156 115.5h3.6M111 136.5h3.6M90 142.5h3.6"/><path stroke="#b5b5b5" d="M156 136.5h3.6M78 145.5h3.6M81 145.5h3.6"/><path stroke="#b6b6b6" d="M159 85.5h3.6M159 121.5h3.6M159 127.5h3.6M84 145.5h3.6"/><path stroke="#b7b7b7" d="M147 109.5h3.6M138 112.5h3.6M153 112.5h3.6M156 139.5h3.6M75 145.5h3.6"/><path stroke="#b8b8b8" d="M153 85.5h3.6M156 85.5h3.6M162 91.5h3.6M129 109.5h3.6M159 124.5h3.6M114 130.5h3.6M156 133.5h3.6"/><path stroke="#b9b9b9" d="M165 91.5h3.6M132 109.5h3.6M141 112.5h3.6M93 142.5h3.6M102 142.5h3.6M105 142.5h3.6M156 142.5h3.6M72 145.5h3.6M87 145.5h3.6M156 145.5h3.6M156 148.5h3.6"/><path stroke="#bababa" d="M117 124.5h3.6"/><path stroke="#bbbbbb" d="M153 88.5h3.6M111 139.5h3.6M99 142.5h3.6"/><path stroke="#bcbcbc" d="M114 133.5h3.6M96 142.5h3.6"/><path stroke="#bdbdbd" d="M156 88.5h3.6M165 88.5h3.6M108 142.5h3.6M90 145.5h3.6"/><path stroke="#bebebe" d="M159 88.5h3.6M162 88.5h3.6"/><path stroke="#bfbfbf" d="M156 130.5h3.6M78 148.5h3.6M81 148.5h3.6"/><path stroke="#c0c0c0" d="M144 112.5h3.6M156 118.5h3.6M114 136.5h3.6M75 148.5h3.6M84 148.5h3.6"/><path stroke="#c1c1c1" d="M93 145.5h3.6"/><path stroke="#c3c3c3" d="M126 112.5h3.6M150 112.5h3.6M120 118.5h3.6M153 136.5h3.6M153 139.5h3.6M111 142.5h3.6M96 145.5h3.6M99 145.5h3.6M102 145.5h3.6M105 145.5h3.6M87 148.5h3.6M153 148.5h3.6"/><path stroke="#c4c4c4" d="M153 115.5h3.6M153 142.5h3.6M153 145.5h3.6"/><path stroke="#c5c5c5" d="M135 112.5h3.6M156 127.5h3.6M114 139.5h3.6"/><path stroke="#c6c6c6" d="M147 112.5h3.6M156 121.5h3.6M117 127.5h3.6M108 145.5h3.6M90 148.5h3.6"/><path stroke="#c7c7c7" d="M156 124.5h3.6M153 133.5h3.6"/><path stroke="#c8c8c8" d="M93 148.5h3.6"/><path stroke="#cacaca" d="M123 115.5h3.6M96 148.5h3.6"/><path stroke="#cbcbcb" d="M120 121.5h3.6M99 148.5h3.6M102 148.5h3.6M150 148.5h3.6"/><path stroke="#cccccc" d="M141 115.5h3.6M120 124.5h3.6M117 133.5h3.6M150 139.5h3.6M114 142.5h3.6M150 142.5h3.6M111 145.5h3.6M150 145.5h3.6M105 148.5h3.6"/><path stroke="#cdcdcd" d="M117 130.5h3.6M117 136.5h3.6M150 136.5h3.6"/><path stroke="#cecece" d="M144 115.5h3.6M153 130.5h3.6"/><path stroke="#cfcfcf" d="M153 118.5h3.6M108 148.5h3.6"/><path stroke="#d0d0d0" d="M138 115.5h3.6"/><path stroke="#d1d1d1" d="M150 115.5h3.6M153 127.5h3.6M117 139.5h3.6M147 139.5h3.6"/><path stroke="#d2d2d2" d="M153 124.5h3.6M150 133.5h3.6M147 136.5h3.6M147 142.5h3.6M147 145.5h3.6M147 148.5h3.6"/><path stroke="#d3d3d3" d="M147 115.5h3.6M153 121.5h3.6M114 145.5h3.6"/><path stroke="#d4d4d4" d="M111 148.5h3.6"/><path stroke="#d5d5d5" d="M132 112.5h3.6M144 139.5h3.6"/><path stroke="#d6d6d6" d="M117 142.5h3.6M144 142.5h3.6M144 145.5h3.6M144 148.5h3.6"/><path stroke="#d7d7d7" d="M129 112.5h3.6M150 118.5h3.6M144 136.5h3.6M141 139.5h3.6"/><path stroke="#d8d8d8" d="M144 118.5h3.6M147 133.5h3.6M141 142.5h3.6"/><path stroke="#d9d9d9" d="M147 118.5h3.6M150 121.5h3.6M150 130.5h3.6M141 145.5h3.6"/><path stroke="#dadada" d="M141 118.5h3.6M150 124.5h3.6M120 136.5h3.6M141 136.5h3.6M138 139.5h3.6M138 142.5h3.6M114 148.5h3.6M141 148.5h3.6"/><path stroke="#dbdbdb" d="M147 121.5h3.6M150 127.5h3.6"/><path stroke="#dcdcdc" d="M117 145.5h3.6M138 145.5h3.6"/><path stroke="#dddddd" d="M144 121.5h3.6M120 133.5h3.6M144 133.5h3.6"/><path stroke="#dedede" d="M147 124.5h3.6M147 130.5h3.6M120 139.5h3.6M138 148.5h3.6"/><path stroke="#dfdfdf" d="M138 136.5h3.6"/><path stroke="#e0e0e0" d="M135 115.5h3.6M123 118.5h3.6M120 127.5h3.6M147 127.5h3.6M135 142.5h3.6"/><path stroke="#e1e1e1" d="M141 121.5h3.6M144 124.5h3.6M135 139.5h3.6M117 148.5h3.6"/><path stroke="#e2e2e2" d="M126 115.5h3.6M135 145.5h3.6"/><path stroke="#e3e3e3" d="M144 130.5h3.6M141 133.5h3.6M120 142.5h3.6M135 148.5h3.6"/><path stroke="#e4e4e4" d="M138 118.5h3.6M141 124.5h3.6M144 127.5h3.6M129 136.5h3.6M135 136.5h3.6"/><path stroke="#e5e5e5" d="M120 130.5h3.6M132 136.5h3.6"/><path stroke="#e6e6e6" d="M120 145.5h3.6"/><path stroke="#e7e7e7" d="M123 136.5h3.6"/><path stroke="#e8e8e8" d="M123 124.5h3.6M120 148.5h3.6"/><path stroke="#e9e9e9" d="M138 124.5h3.6M129 133.5h3.6"/><path stroke="#eaeaea" d="M138 133.5h3.6M132 139.5h3.6M132 145.5h3.6M132 148.5h3.6"/><path stroke="#ebebeb" d="M141 127.5h3.6M141 130.5h3.6M123 133.5h3.6M126 136.5h3.6M132 142.5h3.6"/><path stroke="#ececec" d="M138 121.5h3.6"/><path stroke="#ededed" d="M123 121.5h3.6M126 133.5h3.6M123 139.5h3.6"/><path stroke="#eeeeee" d="M132 133.5h3.6M123 148.5h3.6"/><path stroke="#efefef" d="M123 145.5h3.6M129 148.5h3.6"/><path stroke="#f0f0f0" d="M135 133.5h3.6M123 142.5h3.6"/><path stroke="#f1f1f1" d="M132 115.5h3.6M126 148.5h3.6"/><path stroke="#f2f2f2" d="M129 145.5h3.6"/><path stroke="#f3f3f3" d="M135 118.5h3.6"/><path stroke="#f5f5f5" d="M138 130.5h3.6M126 145.5h3.6"/><path stroke="#f6f6f6" d="M129 115.5h3.6M126 118.5h3.6M123 127.5h3.6"/><path stroke="#f7f7f7" d="M138 127.5h3.6M129 142.5h3.6"/><path stroke="#f8f8f8" d="M123 130.5h3.6"/><path stroke="#f9f9f9" d="M129 130.5h3.6M126 139.5h3.6M129 139.5h3.6M126 142.5h3.6"/><path stroke="#fafafa" d="M135 124.5h3.6"/><path stroke="#fdfdfd" d="M132 118.5h3.6M129 121.5h3.6M135 121.5h3.6M126 124.5h3.6M126 130.5h3.6M135 130.5h3.6"/><path stroke="#fefefe" d="M129 124.5h3.6M129 127.5h3.6M135 127.5h3.6M132 130.5h3.6"/><path stroke="#ffffff" d="M129 118.5h3.6M126 121.5h3.6M132 121.5h3.6M132 124.5h3.6M126 127.5h3.6M132 127.5h3.6"/></g></g>
<use href="#ov"/>
<text x="127.4" y="18.6" font-size="16.8" font-weight="bold" text-anchor="middle" fill="#111">15/02/2003</text>
<path d="M61.4 208.8v-1.8M112.7 208.8v-1.8M164 208.8v-1.8M215.3 208.8v-1.8" stroke="#222" stroke-width="0.6"/>
<g font-size="13.4" fill="#222" text-anchor="middle"><text x="61.4" y="227.7">10</text><text x="112.7" y="227.7">20</text><text x="164" y="227.7">30</text><text x="215.3" y="227.7">40</text></g>
</g>
<g transform="translate(260,0)">
<g clip-path="url(#pc)"><g filter="url(#cm)" stroke-width="3.6" fill="none"><rect x="40" y="36" width="180" height="124" fill="#808080"/><path stroke="#000000" d="M165 46.5h3.6M174 46.5h3.6M168 49.5h3.6M171 49.5h3.6M174 49.5h3.6M171 52.5h3.6M174 52.5h3.6M177 52.5h3.6M174 55.5h3.6M177 55.5h3.6M180 55.5h3.6M183 55.5h3.6M177 58.5h3.6M180 58.5h3.6M183 58.5h3.6M180 61.5h3.6M183 61.5h3.6M186 61.5h3.6M180 64.5h3.6M183 64.5h3.6M186 64.5h3.6M183 67.5h3.6M186 67.5h3.6M189 67.5h3.6M192 67.5h3.6M195 67.5h3.6M198 67.5h3.6M201 67.5h3.6"/><path stroke="#010101" d="M156 46.5h3.6M177 61.5h3.6"/><path stroke="#020202" d="M165 49.5h3.6M174 58.5h3.6"/><path stroke="#030303" d="M162 49.5h3.6M168 52.5h3.6M171 55.5h3.6M180 67.5h3.6"/><path stroke="#040404" d="M150 49.5h3.6M153 49.5h3.6M156 49.5h3.6M159 49.5h3.6M174 61.5h3.6M177 64.5h3.6M183 70.5h3.6M186 70.5h3.6"/><path stroke="#050505" d="M147 49.5h3.6M150 52.5h3.6M171 58.5h3.6M189 70.5h3.6"/><path stroke="#060606" d="M147 52.5h3.6M153 52.5h3.6M156 52.5h3.6M165 52.5h3.6M168 55.5h3.6M180 70.5h3.6M192 70.5h3.6"/><path stroke="#070707" d="M159 52.5h3.6M162 52.5h3.6M147 55.5h3.6M150 55.5h3.6M171 61.5h3.6M174 64.5h3.6M177 67.5h3.6M195 70.5h3.6M198 70.5h3.6M201 70.5h3.6"/><path stroke="#080808" d="M144 49.5h3.6M144 52.5h3.6M144 55.5h3.6M153 55.5h3.6M156 55.5h3.6M168 58.5h3.6"/><path stroke="#090909" d="M159 55.5h3.6M162 55.5h3.6M165 55.5h3.6M147 58.5h3.6M156 58.5h3.6M156 61.5h3.6M159 61.5h3.6M162 61.5h3.6M165 61.5h3.6M168 61.5h3.6M171 64.5h3.6"/><path stroke="#0a0a0a" d="M144 58.5h3.6M150 58.5h3.6M153 58.5h3.6M159 58.5h3.6M162 58.5h3.6M165 58.5h3.6M174 67.5h3.6M177 70.5h3.6M180 73.5h3.6M183 73.5h3.6"/><path stroke="#0b0b0b" d="M165 64.5h3.6M168 64.5h3.6"/><path stroke="#0c0c0c" d="M150 61.5h3.6M153 61.5h3.6M162 64.5h3.6M171 67.5h3.6"/><path stroke="#0d0d0d" d="M174 70.5h3.6M186 73.5h3.6"/><path stroke="#0e0e0e" d="M141 49.5h3.6M141 52.5h3.6M147 61.5h3.6M159 64.5h3.6M177 73.5h3.6M189 73.5h3.6"/><path stroke="#0f0f0f" d="M141 55.5h3.6M171 70.5h3.6"/><path stroke="#101010" d="M156 64.5h3.6M168 67.5h3.6M174 73.5h3.6M192 73.5h3.6"/><path stroke="#121212" d="M141 58.5h3.6M144 61.5h3.6M195 73.5h3.6M198 73.5h3.6M180 76.5h3.6"/><path stroke="#151515" d="M138 49.5h3.6M153 64.5h3.6M183 76.5h3.6"/><path stroke="#161616" d="M165 67.5h3.6"/><path stroke="#171717" d="M138 52.5h3.6M171 73.5h3.6M177 76.5h3.6"/><path stroke="#181818" d="M150 64.5h3.6"/><path stroke="#191919" d="M168 70.5h3.6"/><path stroke="#1a1a1a" d="M186 76.5h3.6"/><path stroke="#1b1b1b" d="M138 55.5h3.6M141 61.5h3.6M162 67.5h3.6M189 76.5h3.6"/><path stroke="#1d1d1d" d="M147 64.5h3.6"/><path stroke="#1e1e1e" d="M135 49.5h3.6M192 76.5h3.6M201 76.5h3.6"/><path stroke="#1f1f1f" d="M198 76.5h3.6"/><path stroke="#202020" d="M138 58.5h3.6M174 76.5h3.6M195 76.5h3.6"/><path stroke="#212121" d="M159 67.5h3.6"/><path stroke="#222222" d="M135 52.5h3.6"/><path stroke="#242424" d="M144 64.5h3.6"/><path stroke="#262626" d="M132 49.5h3.6M156 67.5h3.6M165 70.5h3.6"/><path stroke="#272727" d="M135 55.5h3.6M168 73.5h3.6"/><path stroke="#282828" d="M138 61.5h3.6"/><path stroke="#2b2b2b" d="M132 52.5h3.6M141 64.5h3.6M153 67.5h3.6M183 79.5h3.6"/><path stroke="#2c2c2c" d="M171 76.5h3.6M201 79.5h3.6"/><path stroke="#2d2d2d" d="M129 49.5h3.6M135 58.5h3.6"/><path stroke="#2e2e2e" d="M186 79.5h3.6"/><path stroke="#2f2f2f" d="M198 79.5h3.6"/><path stroke="#303030" d="M189 79.5h3.6"/><path stroke="#313131" d="M132 55.5h3.6M192 79.5h3.6M195 79.5h3.6"/><path stroke="#323232" d="M162 70.5h3.6"/><path stroke="#333333" d="M126 49.5h3.6M129 52.5h3.6M138 64.5h3.6M150 67.5h3.6M180 79.5h3.6"/><path stroke="#343434" d="M135 61.5h3.6"/><path stroke="#373737" d="M123 49.5h3.6M126 52.5h3.6M177 79.5h3.6"/><path stroke="#383838" d="M132 58.5h3.6"/><path stroke="#393939" d="M129 55.5h3.6M165 73.5h3.6"/><path stroke="#3a3a3a" d="M120 49.5h3.6M123 52.5h3.6M120 64.5h3.6M135 64.5h3.6M147 67.5h3.6M159 70.5h3.6"/><path stroke="#3b3b3b" d="M120 61.5h3.6"/><path stroke="#3c3c3c" d="M126 55.5h3.6M123 64.5h3.6M168 76.5h3.6"/><path stroke="#3d3d3d" d="M117 49.5h3.6M120 52.5h3.6M123 55.5h3.6M123 61.5h3.6M141 67.5h3.6M144 67.5h3.6"/><path stroke="#3e3e3e" d="M120 55.5h3.6M120 58.5h3.6M123 58.5h3.6M132 61.5h3.6M138 67.5h3.6M174 79.5h3.6"/><path stroke="#3f3f3f" d="M129 58.5h3.6M123 67.5h3.6M156 70.5h3.6M198 82.5h3.6"/><path stroke="#404040" d="M114 49.5h3.6M117 52.5h3.6M117 61.5h3.6M117 64.5h3.6M126 64.5h3.6M132 64.5h3.6M120 67.5h3.6M126 67.5h3.6M135 67.5h3.6"/><path stroke="#414141" d="M117 55.5h3.6M117 58.5h3.6M126 58.5h3.6M129 67.5h3.6M132 67.5h3.6"/><path stroke="#424242" d="M129 64.5h3.6"/><path stroke="#434343" d="M111 49.5h3.6M114 52.5h3.6M126 61.5h3.6M126 70.5h3.6M129 70.5h3.6M171 79.5h3.6"/><path stroke="#444444" d="M114 55.5h3.6M129 61.5h3.6M123 70.5h3.6M132 70.5h3.6M135 70.5h3.6M195 82.5h3.6"/><path stroke="#454545" d="M111 52.5h3.6M153 70.5h3.6M129 73.5h3.6"/><path stroke="#464646" d="M108 49.5h3.6M114 58.5h3.6M114 61.5h3.6M117 67.5h3.6M138 70.5h3.6M126 73.5h3.6M132 73.5h3.6"/><path stroke="#474747" d="M108 52.5h3.6M111 55.5h3.6M114 64.5h3.6M120 70.5h3.6M201 85.5h3.6"/><path stroke="#484848" d="M105 49.5h3.6M123 73.5h3.6M135 73.5h3.6M162 73.5h3.6M129 76.5h3.6M102 79.5h3.6"/><path stroke="#494949" d="M105 52.5h3.6M108 55.5h3.6M111 58.5h3.6M102 76.5h3.6M126 76.5h3.6M132 76.5h3.6"/><path stroke="#4a4a4a" d="M105 55.5h3.6M105 58.5h3.6M108 58.5h3.6M111 61.5h3.6M111 64.5h3.6M114 67.5h3.6M105 76.5h3.6M135 76.5h3.6M99 79.5h3.6M105 79.5h3.6M192 82.5h3.6"/><path stroke="#4b4b4b" d="M102 49.5h3.6M105 61.5h3.6M108 61.5h3.6M108 64.5h3.6M141 70.5h3.6M102 73.5h3.6M105 73.5h3.6M120 73.5h3.6M138 73.5h3.6M99 76.5h3.6M123 76.5h3.6M165 76.5h3.6M129 79.5h3.6M102 82.5h3.6"/><path stroke="#4c4c4c" d="M99 46.5h3.6M102 52.5h3.6M102 55.5h3.6M102 58.5h3.6M102 61.5h3.6M105 64.5h3.6M105 67.5h3.6M108 67.5h3.6M111 67.5h3.6M105 70.5h3.6M117 70.5h3.6M150 70.5h3.6M132 79.5h3.6M99 82.5h3.6"/><path stroke="#4d4d4d" d="M102 64.5h3.6M102 67.5h3.6M102 70.5h3.6M108 70.5h3.6M99 73.5h3.6M108 73.5h3.6M108 76.5h3.6M126 79.5h3.6M105 82.5h3.6"/><path stroke="#4e4e4e" d="M99 49.5h3.6M111 70.5h3.6M114 70.5h3.6M111 73.5h3.6M117 73.5h3.6M159 73.5h3.6M120 76.5h3.6M138 76.5h3.6M96 79.5h3.6M108 79.5h3.6M135 79.5h3.6M168 79.5h3.6M198 85.5h3.6"/><path stroke="#4f4f4f" d="M96 46.5h3.6M99 52.5h3.6M99 70.5h3.6M114 73.5h3.6M96 76.5h3.6M111 76.5h3.6M123 79.5h3.6M102 85.5h3.6"/><path stroke="#505050" d="M99 55.5h3.6M99 58.5h3.6M99 61.5h3.6M99 67.5h3.6M117 76.5h3.6M138 79.5h3.6M96 82.5h3.6M108 82.5h3.6M129 82.5h3.6M99 85.5h3.6"/><path stroke="#515151" d="M96 49.5h3.6M99 64.5h3.6M144 70.5h3.6M96 73.5h3.6M141 73.5h3.6M114 76.5h3.6M111 79.5h3.6M132 82.5h3.6M105 85.5h3.6"/><path stroke="#525252" d="M93 46.5h3.6M156 73.5h3.6M141 76.5h3.6M120 79.5h3.6M150 79.5h3.6M126 82.5h3.6M135 82.5h3.6M153 82.5h3.6M156 82.5h3.6M189 82.5h3.6M201 88.5h3.6"/><path stroke="#535353" d="M96 52.5h3.6M96 70.5h3.6M93 79.5h3.6M114 79.5h3.6M117 79.5h3.6M141 79.5h3.6M147 79.5h3.6M153 79.5h3.6M150 82.5h3.6M96 85.5h3.6"/><path stroke="#545454" d="M96 55.5h3.6M147 70.5h3.6M153 73.5h3.6M93 76.5h3.6M144 79.5h3.6M156 79.5h3.6M93 82.5h3.6M111 82.5h3.6M123 82.5h3.6M138 82.5h3.6M147 82.5h3.6M171 82.5h3.6M108 85.5h3.6M102 88.5h3.6"/><path stroke="#555555" d="M90 46.5h3.6M93 49.5h3.6M96 58.5h3.6M96 61.5h3.6M96 64.5h3.6M96 67.5h3.6M162 76.5h3.6M141 82.5h3.6M159 82.5h3.6M99 88.5h3.6"/><path stroke="#565656" d="M93 73.5h3.6M144 76.5h3.6M150 76.5h3.6M165 79.5h3.6M114 82.5h3.6M144 82.5h3.6M168 82.5h3.6M105 88.5h3.6"/><path stroke="#575757" d="M87 46.5h3.6M93 52.5h3.6M144 73.5h3.6M150 73.5h3.6M147 76.5h3.6M153 76.5h3.6M156 76.5h3.6M159 76.5h3.6M159 79.5h3.6M117 82.5h3.6M120 82.5h3.6M93 85.5h3.6M153 85.5h3.6M156 85.5h3.6M195 85.5h3.6M96 88.5h3.6"/><path stroke="#585858" d="M90 49.5h3.6M93 70.5h3.6M90 76.5h3.6M90 79.5h3.6M111 85.5h3.6M129 85.5h3.6M132 85.5h3.6M135 85.5h3.6M102 91.5h3.6"/><path stroke="#595959" d="M84 46.5h3.6M93 55.5h3.6M93 58.5h3.6M93 64.5h3.6M93 67.5h3.6M90 73.5h3.6M162 79.5h3.6M90 82.5h3.6M162 82.5h3.6M165 82.5h3.6M126 85.5h3.6M138 85.5h3.6M141 85.5h3.6M150 85.5h3.6M159 85.5h3.6M108 88.5h3.6M99 91.5h3.6"/><path stroke="#5a5a5a" d="M81 46.5h3.6M87 49.5h3.6M90 52.5h3.6M93 61.5h3.6M147 73.5h3.6M144 85.5h3.6M147 85.5h3.6M162 85.5h3.6M198 88.5h3.6M105 91.5h3.6M156 100.5h3.6"/><path stroke="#5b5b5b" d="M78 46.5h3.6M84 49.5h3.6M90 70.5h3.6M87 76.5h3.6M87 79.5h3.6M114 85.5h3.6M123 85.5h3.6M165 85.5h3.6M93 88.5h3.6M96 91.5h3.6M153 100.5h3.6M159 100.5h3.6M156 103.5h3.6"/><path stroke="#5c5c5c" d="M75 46.5h3.6M81 49.5h3.6M87 52.5h3.6M90 55.5h3.6M90 67.5h3.6M87 73.5h3.6M90 85.5h3.6M168 85.5h3.6M153 88.5h3.6M153 97.5h3.6M156 97.5h3.6M159 97.5h3.6M153 103.5h3.6M159 103.5h3.6"/><path stroke="#5d5d5d" d="M78 49.5h3.6M78 52.5h3.6M81 52.5h3.6M84 52.5h3.6M90 58.5h3.6M90 61.5h3.6M90 64.5h3.6M87 70.5h3.6M84 73.5h3.6M84 76.5h3.6M87 82.5h3.6M117 85.5h3.6M120 85.5h3.6M111 88.5h3.6M156 88.5h3.6M162 88.5h3.6M99 94.5h3.6M102 94.5h3.6M150 97.5h3.6M150 100.5h3.6M162 100.5h3.6"/><path stroke="#5e5e5e" d="M72 46.5h3.6M75 49.5h3.6M75 52.5h3.6M78 55.5h3.6M81 55.5h3.6M87 55.5h3.6M78 58.5h3.6M81 67.5h3.6M84 67.5h3.6M87 67.5h3.6M78 70.5h3.6M81 70.5h3.6M84 70.5h3.6M78 73.5h3.6M81 73.5h3.6M81 76.5h3.6M84 79.5h3.6M135 88.5h3.6M138 88.5h3.6M141 88.5h3.6M144 88.5h3.6M150 88.5h3.6M159 88.5h3.6M165 88.5h3.6M108 91.5h3.6M105 94.5h3.6M153 94.5h3.6M156 94.5h3.6M159 94.5h3.6M162 97.5h3.6M150 103.5h3.6M162 103.5h3.6M156 106.5h3.6"/><path stroke="#5f5f5f" d="M72 49.5h3.6M75 55.5h3.6M84 55.5h3.6M75 58.5h3.6M81 58.5h3.6M84 58.5h3.6M87 58.5h3.6M75 61.5h3.6M78 61.5h3.6M81 61.5h3.6M84 61.5h3.6M87 61.5h3.6M78 64.5h3.6M81 64.5h3.6M84 64.5h3.6M87 64.5h3.6M75 67.5h3.6M78 67.5h3.6M75 70.5h3.6M75 73.5h3.6M78 76.5h3.6M186 82.5h3.6M132 88.5h3.6M147 88.5h3.6M93 91.5h3.6M153 91.5h3.6M156 91.5h3.6M159 91.5h3.6M162 91.5h3.6M165 91.5h3.6M96 94.5h3.6M150 94.5h3.6M162 94.5h3.6M147 97.5h3.6M165 97.5h3.6M147 100.5h3.6M165 100.5h3.6M153 106.5h3.6M159 106.5h3.6"/><path stroke="#606060" d="M72 52.5h3.6M72 55.5h3.6M75 64.5h3.6M72 70.5h3.6M72 73.5h3.6M75 76.5h3.6M81 79.5h3.6M84 82.5h3.6M87 85.5h3.6M171 85.5h3.6M90 88.5h3.6M168 88.5h3.6M144 91.5h3.6M147 91.5h3.6M150 91.5h3.6M147 94.5h3.6M165 94.5h3.6M147 103.5h3.6M165 103.5h3.6M150 106.5h3.6M162 106.5h3.6"/><path stroke="#616161" d="M69 46.5h3.6M72 58.5h3.6M72 61.5h3.6M72 64.5h3.6M72 67.5h3.6M78 79.5h3.6M174 82.5h3.6M114 88.5h3.6M129 88.5h3.6M141 91.5h3.6M168 91.5h3.6M108 94.5h3.6M144 94.5h3.6M168 94.5h3.6M102 97.5h3.6M144 97.5h3.6M168 97.5h3.6M144 100.5h3.6M156 109.5h3.6"/><path stroke="#626262" d="M69 49.5h3.6M69 52.5h3.6M69 70.5h3.6M69 73.5h3.6M72 76.5h3.6M81 82.5h3.6M192 85.5h3.6M126 88.5h3.6M111 91.5h3.6M138 91.5h3.6M198 91.5h3.6M141 94.5h3.6M99 97.5h3.6M105 97.5h3.6M168 100.5h3.6M165 106.5h3.6M153 109.5h3.6M159 109.5h3.6"/><path stroke="#636363" d="M69 55.5h3.6M69 58.5h3.6M69 67.5h3.6M75 79.5h3.6M84 85.5h3.6M123 88.5h3.6M135 91.5h3.6M171 91.5h3.6M93 94.5h3.6M171 94.5h3.6M141 97.5h3.6M171 97.5h3.6M144 103.5h3.6M168 103.5h3.6M147 106.5h3.6M162 109.5h3.6"/><path stroke="#646464" d="M66 46.5h3.6M69 61.5h3.6M69 64.5h3.6M78 82.5h3.6M87 88.5h3.6M117 88.5h3.6M120 88.5h3.6M171 88.5h3.6M195 88.5h3.6M90 91.5h3.6M138 94.5h3.6M96 97.5h3.6M141 100.5h3.6M171 100.5h3.6M168 106.5h3.6M150 109.5h3.6M165 109.5h3.6"/><path stroke="#656565" d="M66 49.5h3.6M66 52.5h3.6M69 76.5h3.6M72 79.5h3.6M132 91.5h3.6M174 94.5h3.6M108 97.5h3.6M138 97.5h3.6M174 97.5h3.6M102 100.5h3.6M171 103.5h3.6M156 112.5h3.6M159 112.5h3.6"/><path stroke="#666666" d="M66 55.5h3.6M66 70.5h3.6M75 82.5h3.6M81 85.5h3.6M114 91.5h3.6M174 91.5h3.6M111 94.5h3.6M135 94.5h3.6M99 100.5h3.6M105 100.5h3.6M174 100.5h3.6M141 103.5h3.6M144 106.5h3.6M171 106.5h3.6M147 109.5h3.6M168 109.5h3.6M153 112.5h3.6M162 112.5h3.6M165 112.5h3.6"/><path stroke="#676767" d="M63 46.5h3.6M66 58.5h3.6M66 61.5h3.6M66 64.5h3.6M66 67.5h3.6M66 73.5h3.6M78 85.5h3.6M90 94.5h3.6M177 94.5h3.6M93 97.5h3.6M177 97.5h3.6M138 100.5h3.6M174 103.5h3.6M150 112.5h3.6M168 112.5h3.6"/><path stroke="#686868" d="M63 49.5h3.6M84 88.5h3.6M87 91.5h3.6M129 91.5h3.6M177 91.5h3.6M135 97.5h3.6M96 100.5h3.6M108 100.5h3.6M177 100.5h3.6M171 109.5h3.6M159 115.5h3.6M162 115.5h3.6M165 115.5h3.6"/><path stroke="#696969" d="M63 52.5h3.6M69 79.5h3.6M72 82.5h3.6M75 85.5h3.6M132 94.5h3.6M111 97.5h3.6M135 100.5h3.6M102 103.5h3.6M105 103.5h3.6M138 103.5h3.6M141 106.5h3.6M174 106.5h3.6M144 109.5h3.6M147 112.5h3.6M171 112.5h3.6M153 115.5h3.6M156 115.5h3.6M168 115.5h3.6"/><path stroke="#6a6a6a" d="M63 55.5h3.6M66 76.5h3.6M78 88.5h3.6M81 88.5h3.6M174 88.5h3.6M117 91.5h3.6M120 91.5h3.6M123 91.5h3.6M126 91.5h3.6M114 94.5h3.6M180 94.5h3.6M132 97.5h3.6M180 97.5h3.6M132 100.5h3.6M99 103.5h3.6M135 103.5h3.6M177 103.5h3.6M174 109.5h3.6M174 112.5h3.6M150 115.5h3.6M171 115.5h3.6M165 118.5h3.6M168 118.5h3.6M171 118.5h3.6"/><path stroke="#6b6b6b" d="M63 58.5h3.6M63 61.5h3.6M63 64.5h3.6M195 91.5h3.6M87 94.5h3.6M90 97.5h3.6M93 100.5h3.6M111 100.5h3.6M129 100.5h3.6M180 100.5h3.6M108 103.5h3.6M132 103.5h3.6M177 106.5h3.6M174 115.5h3.6M159 118.5h3.6M162 118.5h3.6M174 118.5h3.6M171 121.5h3.6M174 121.5h3.6"/><path stroke="#6c6c6c" d="M63 67.5h3.6M63 70.5h3.6M72 85.5h3.6M75 88.5h3.6M84 91.5h3.6M75 94.5h3.6M129 94.5h3.6M75 97.5h3.6M114 97.5h3.6M129 97.5h3.6M75 100.5h3.6M126 100.5h3.6M96 103.5h3.6M129 103.5h3.6M180 103.5h3.6M138 106.5h3.6M177 109.5h3.6M177 112.5h3.6M147 115.5h3.6M177 115.5h3.6M153 118.5h3.6M156 118.5h3.6M177 118.5h3.6M180 118.5h3.6M165 121.5h3.6M168 121.5h3.6M177 121.5h3.6M180 121.5h3.6M183 121.5h3.6M171 124.5h3.6M174 124.5h3.6M177 124.5h3.6M180 124.5h3.6M183 124.5h3.6M177 127.5h3.6M180 127.5h3.6M183 127.5h3.6"/><path stroke="#6d6d6d" d="M69 82.5h3.6M75 91.5h3.6M78 91.5h3.6M81 91.5h3.6M78 94.5h3.6M117 94.5h3.6M126 94.5h3.6M195 94.5h3.6M72 97.5h3.6M78 97.5h3.6M126 97.5h3.6M183 97.5h3.6M183 100.5h3.6M111 103.5h3.6M126 103.5h3.6M102 106.5h3.6M105 106.5h3.6M180 106.5h3.6M141 109.5h3.6M180 109.5h3.6M144 112.5h3.6M180 112.5h3.6M180 115.5h3.6M183 115.5h3.6M150 118.5h3.6M183 118.5h3.6M162 121.5h3.6M168 124.5h3.6M171 127.5h3.6M174 127.5h3.6M177 130.5h3.6M180 130.5h3.6M183 130.5h3.6M186 130.5h3.6M183 133.5h3.6"/><path stroke="#6e6e6e" d="M60 52.5h3.6M63 73.5h3.6M66 79.5h3.6M72 88.5h3.6M72 91.5h3.6M180 91.5h3.6M72 94.5h3.6M84 94.5h3.6M120 94.5h3.6M123 94.5h3.6M87 97.5h3.6M117 97.5h3.6M195 97.5h3.6M72 100.5h3.6M78 100.5h3.6M114 100.5h3.6M123 100.5h3.6M75 103.5h3.6M183 103.5h3.6M99 106.5h3.6M108 106.5h3.6M135 106.5h3.6M183 106.5h3.6M183 109.5h3.6M186 109.5h3.6M183 112.5h3.6M186 112.5h3.6M156 121.5h3.6M159 121.5h3.6M165 124.5h3.6M168 127.5h3.6M171 130.5h3.6M174 130.5h3.6M177 133.5h3.6M180 133.5h3.6M183 136.5h3.6"/><path stroke="#6f6f6f" d="M60 55.5h3.6M60 58.5h3.6M81 94.5h3.6M183 94.5h3.6M81 97.5h3.6M120 97.5h3.6M123 97.5h3.6M90 100.5h3.6M117 100.5h3.6M93 103.5h3.6M114 103.5h3.6M123 103.5h3.6M186 103.5h3.6M192 103.5h3.6M129 106.5h3.6M132 106.5h3.6M186 106.5h3.6M189 106.5h3.6M144 115.5h3.6M147 118.5h3.6M153 121.5h3.6M162 124.5h3.6M165 127.5h3.6M174 133.5h3.6M177 136.5h3.6M180 136.5h3.6M186 139.5h3.6"/><path stroke="#707070" d="M60 61.5h3.6M174 85.5h3.6M192 88.5h3.6M84 97.5h3.6M120 100.5h3.6M186 100.5h3.6M192 100.5h3.6M117 103.5h3.6M120 103.5h3.6M189 103.5h3.6M96 106.5h3.6M111 106.5h3.6M126 106.5h3.6M105 109.5h3.6M138 109.5h3.6M141 112.5h3.6M150 121.5h3.6M159 124.5h3.6M162 127.5h3.6M168 130.5h3.6M171 133.5h3.6M174 136.5h3.6M180 139.5h3.6M183 139.5h3.6"/><path stroke="#717171" d="M60 64.5h3.6M63 76.5h3.6M69 85.5h3.6M177 88.5h3.6M186 97.5h3.6M81 100.5h3.6M87 100.5h3.6M189 100.5h3.6M78 103.5h3.6M114 106.5h3.6M123 106.5h3.6M102 109.5h3.6M108 109.5h3.6M147 121.5h3.6M153 124.5h3.6M156 124.5h3.6M165 130.5h3.6M168 133.5h3.6M171 136.5h3.6M177 139.5h3.6M183 142.5h3.6"/><path stroke="#727272" d="M60 67.5h3.6M69 94.5h3.6M69 97.5h3.6M192 97.5h3.6M84 100.5h3.6M90 103.5h3.6M117 106.5h3.6M120 106.5h3.6M99 109.5h3.6M111 109.5h3.6M135 109.5h3.6M144 118.5h3.6M150 124.5h3.6M159 127.5h3.6M162 130.5h3.6M174 139.5h3.6M180 142.5h3.6"/><path stroke="#737373" d="M60 70.5h3.6M66 82.5h3.6M183 82.5h3.6M189 85.5h3.6M69 88.5h3.6M69 91.5h3.6M192 94.5h3.6M189 97.5h3.6M72 103.5h3.6M93 106.5h3.6M132 109.5h3.6M141 115.5h3.6M144 121.5h3.6M147 124.5h3.6M156 127.5h3.6M165 133.5h3.6M168 136.5h3.6M171 139.5h3.6M177 142.5h3.6M183 145.5h3.6"/><path stroke="#747474" d="M192 91.5h3.6M186 94.5h3.6M75 106.5h3.6M114 109.5h3.6M126 109.5h3.6M129 109.5h3.6M138 112.5h3.6M150 127.5h3.6M153 127.5h3.6M159 130.5h3.6M162 133.5h3.6M165 136.5h3.6M174 142.5h3.6M180 145.5h3.6"/><path stroke="#757575" d="M60 73.5h3.6M63 79.5h3.6M183 91.5h3.6M81 103.5h3.6M87 103.5h3.6M96 109.5h3.6M117 109.5h3.6M120 109.5h3.6M123 109.5h3.6M105 112.5h3.6M108 112.5h3.6M111 112.5h3.6M141 118.5h3.6M144 124.5h3.6M147 127.5h3.6M156 130.5h3.6M159 133.5h3.6M168 139.5h3.6M171 142.5h3.6M177 145.5h3.6M183 148.5h3.6M186 148.5h3.6"/><path stroke="#767676" d="M189 94.5h3.6M69 100.5h3.6M90 106.5h3.6M102 112.5h3.6M135 112.5h3.6M141 121.5h3.6M144 127.5h3.6M153 130.5h3.6M162 136.5h3.6M165 139.5h3.6M174 145.5h3.6M180 148.5h3.6"/><path stroke="#777777" d="M57 64.5h3.6M66 85.5h3.6M84 103.5h3.6M78 106.5h3.6M93 109.5h3.6M114 112.5h3.6M132 112.5h3.6M138 115.5h3.6M141 124.5h3.6M150 130.5h3.6M156 133.5h3.6M159 136.5h3.6M168 142.5h3.6"/><path stroke="#787878" d="M60 76.5h3.6M99 112.5h3.6M117 112.5h3.6M120 112.5h3.6M123 112.5h3.6M126 112.5h3.6M129 112.5h3.6M108 115.5h3.6M138 118.5h3.6M141 127.5h3.6M144 130.5h3.6M147 130.5h3.6M153 133.5h3.6M162 139.5h3.6M171 145.5h3.6M177 148.5h3.6"/><path stroke="#797979" d="M57 67.5h3.6M63 82.5h3.6M105 115.5h3.6M111 115.5h3.6M114 115.5h3.6M135 115.5h3.6M138 121.5h3.6M150 133.5h3.6M156 136.5h3.6M159 139.5h3.6M165 142.5h3.6M168 145.5h3.6M174 148.5h3.6"/><path stroke="#7a7a7a" d="M66 88.5h3.6M66 91.5h3.6M66 94.5h3.6M66 97.5h3.6M87 106.5h3.6M90 109.5h3.6M96 112.5h3.6M117 115.5h3.6M132 115.5h3.6M135 118.5h3.6M138 124.5h3.6M138 127.5h3.6M141 130.5h3.6M147 133.5h3.6M153 136.5h3.6M162 142.5h3.6M171 148.5h3.6"/><path stroke="#7b7b7b" d="M57 70.5h3.6M189 91.5h3.6M72 106.5h3.6M81 106.5h3.6M102 115.5h3.6M120 115.5h3.6M123 115.5h3.6M126 115.5h3.6M129 115.5h3.6M108 118.5h3.6M111 118.5h3.6M144 133.5h3.6M150 136.5h3.6M156 139.5h3.6M159 142.5h3.6M165 145.5h3.6"/><path stroke="#7c7c7c" d="M186 91.5h3.6M84 106.5h3.6M93 112.5h3.6M114 118.5h3.6M132 118.5h3.6M135 121.5h3.6M138 130.5h3.6M141 133.5h3.6M153 139.5h3.6M156 142.5h3.6M162 145.5h3.6M168 148.5h3.6"/><path stroke="#7d7d7d" d="M60 79.5h3.6M87 109.5h3.6M90 112.5h3.6M105 118.5h3.6M117 118.5h3.6M129 118.5h3.6M135 124.5h3.6M144 136.5h3.6M147 136.5h3.6M147 139.5h3.6M150 139.5h3.6M153 142.5h3.6M159 145.5h3.6M165 148.5h3.6"/><path stroke="#7e7e7e" d="M57 73.5h3.6M63 85.5h3.6M189 88.5h3.6M87 112.5h3.6M99 115.5h3.6M120 118.5h3.6M123 118.5h3.6M126 118.5h3.6M108 121.5h3.6M111 121.5h3.6M132 121.5h3.6M135 127.5h3.6M150 142.5h3.6M156 145.5h3.6"/><path stroke="#7f7f7f" d="M102 118.5h3.6M105 121.5h3.6M114 121.5h3.6M129 121.5h3.6M138 133.5h3.6M141 136.5h3.6M144 139.5h3.6M147 142.5h3.6M153 145.5h3.6M162 148.5h3.6"/><path stroke="#808080" d="M180 88.5h3.6M69 103.5h3.6M84 109.5h3.6M84 115.5h3.6M87 115.5h3.6M90 115.5h3.6M96 115.5h3.6M117 121.5h3.6M126 121.5h3.6M108 124.5h3.6M132 124.5h3.6M144 142.5h3.6M150 145.5h3.6M159 148.5h3.6"/><path stroke="#818181" d="M57 76.5h3.6M60 82.5h3.6M177 82.5h3.6M63 88.5h3.6M66 100.5h3.6M75 109.5h3.6M84 112.5h3.6M93 115.5h3.6M84 118.5h3.6M120 121.5h3.6M123 121.5h3.6M105 124.5h3.6M111 124.5h3.6M135 130.5h3.6M147 145.5h3.6M156 148.5h3.6"/><path stroke="#828282" d="M63 91.5h3.6M78 109.5h3.6M81 109.5h3.6M102 121.5h3.6M114 124.5h3.6M129 124.5h3.6M141 139.5h3.6M153 148.5h3.6"/><path stroke="#838383" d="M63 94.5h3.6M87 118.5h3.6M99 118.5h3.6M117 124.5h3.6M105 127.5h3.6M108 127.5h3.6M132 127.5h3.6M138 136.5h3.6M150 148.5h3.6"/><path stroke="#848484" d="M81 115.5h3.6M102 124.5h3.6M120 124.5h3.6M123 124.5h3.6M126 124.5h3.6M111 127.5h3.6M135 133.5h3.6M141 142.5h3.6M144 145.5h3.6"/><path stroke="#858585" d="M57 79.5h3.6M60 85.5h3.6M63 97.5h3.6M81 112.5h3.6M81 118.5h3.6M90 118.5h3.6M114 127.5h3.6M147 148.5h3.6"/><path stroke="#868686" d="M183 88.5h3.6M93 118.5h3.6M96 118.5h3.6M102 127.5h3.6M129 127.5h3.6M105 130.5h3.6M108 130.5h3.6M111 130.5h3.6M132 130.5h3.6M138 139.5h3.6"/><path stroke="#878787" d="M180 82.5h3.6M99 121.5h3.6M117 127.5h3.6"/><path stroke="#888888" d="M120 127.5h3.6M123 127.5h3.6M126 127.5h3.6M102 130.5h3.6M114 130.5h3.6M135 136.5h3.6M141 145.5h3.6M144 148.5h3.6"/><path stroke="#898989" d="M60 88.5h3.6M72 109.5h3.6M84 121.5h3.6M99 124.5h3.6M105 133.5h3.6M108 133.5h3.6M111 133.5h3.6M138 142.5h3.6"/><path stroke="#8a8a8a" d="M57 82.5h3.6M186 88.5h3.6M99 127.5h3.6M117 130.5h3.6M129 130.5h3.6M114 133.5h3.6M132 133.5h3.6"/><path stroke="#8b8b8b" d="M186 85.5h3.6M96 121.5h3.6M99 130.5h3.6M120 130.5h3.6M102 133.5h3.6M135 139.5h3.6M141 148.5h3.6"/><path stroke="#8c8c8c" d="M60 91.5h3.6M63 100.5h3.6M87 121.5h3.6M90 121.5h3.6M93 121.5h3.6M123 130.5h3.6M126 130.5h3.6M117 133.5h3.6M105 136.5h3.6M108 136.5h3.6M111 136.5h3.6M114 136.5h3.6M138 145.5h3.6"/><path stroke="#8d8d8d" d="M177 85.5h3.6M78 118.5h3.6M96 124.5h3.6M96 127.5h3.6M96 130.5h3.6M99 133.5h3.6M120 133.5h3.6M117 136.5h3.6M132 136.5h3.6"/><path stroke="#8e8e8e" d="M78 112.5h3.6M129 133.5h3.6M102 136.5h3.6M111 139.5h3.6M114 139.5h3.6"/><path stroke="#8f8f8f" d="M54 79.5h3.6M57 85.5h3.6M60 94.5h3.6M78 115.5h3.6M93 124.5h3.6M96 133.5h3.6M123 133.5h3.6M126 133.5h3.6M120 136.5h3.6M108 139.5h3.6M117 139.5h3.6M135 142.5h3.6M138 148.5h3.6"/><path stroke="#909090" d="M93 127.5h3.6M93 130.5h3.6M93 133.5h3.6M99 136.5h3.6M105 139.5h3.6M132 139.5h3.6"/><path stroke="#919191" d="M81 121.5h3.6M93 136.5h3.6M96 136.5h3.6M123 136.5h3.6M129 136.5h3.6M120 139.5h3.6M114 142.5h3.6M117 142.5h3.6M135 145.5h3.6"/><path stroke="#929292" d="M126 136.5h3.6M102 139.5h3.6M123 139.5h3.6M111 142.5h3.6M120 142.5h3.6"/><path stroke="#939393" d="M57 88.5h3.6M66 103.5h3.6M69 106.5h3.6M90 124.5h3.6M90 127.5h3.6M90 130.5h3.6M126 139.5h3.6M129 139.5h3.6M108 142.5h3.6M132 142.5h3.6M135 148.5h3.6"/><path stroke="#949494" d="M54 82.5h3.6M60 97.5h3.6M99 139.5h3.6M105 142.5h3.6M123 142.5h3.6"/><path stroke="#959595" d="M96 139.5h3.6M126 142.5h3.6M129 142.5h3.6M117 145.5h3.6M132 145.5h3.6"/><path stroke="#969696" d="M90 136.5h3.6M93 139.5h3.6M114 145.5h3.6M120 145.5h3.6M129 145.5h3.6"/><path stroke="#979797" d="M90 133.5h3.6M102 142.5h3.6M111 145.5h3.6M123 145.5h3.6M126 145.5h3.6M132 148.5h3.6"/><path stroke="#989898" d="M57 91.5h3.6M75 112.5h3.6M108 145.5h3.6"/><path stroke="#999999" d="M54 85.5h3.6M87 124.5h3.6M99 142.5h3.6M129 148.5h3.6"/><path stroke="#9a9a9a" d="M84 124.5h3.6M90 139.5h3.6M105 145.5h3.6M117 148.5h3.6M120 148.5h3.6M123 148.5h3.6M126 148.5h3.6"/><path stroke="#9b9b9b" d="M87 127.5h3.6M114 148.5h3.6"/><path stroke="#9c9c9c" d="M87 130.5h3.6M96 142.5h3.6M111 148.5h3.6"/><path stroke="#9d9d9d" d="M57 94.5h3.6M102 145.5h3.6"/><path stroke="#9e9e9e" d="M75 118.5h3.6"/><path stroke="#9f9f9f" d="M54 88.5h3.6M60 100.5h3.6M108 148.5h3.6"/><path stroke="#a0a0a0" d="M183 85.5h3.6"/><path stroke="#a1a1a1" d="M93 142.5h3.6M99 145.5h3.6"/><path stroke="#a2a2a2" d="M105 148.5h3.6"/><path stroke="#a3a3a3" d="M180 85.5h3.6M78 121.5h3.6"/><path stroke="#a4a4a4" d="M63 103.5h3.6M75 115.5h3.6"/><path stroke="#a5a5a5" d="M102 148.5h3.6"/><path stroke="#a6a6a6" d="M54 91.5h3.6M57 97.5h3.6M96 145.5h3.6"/><path stroke="#a8a8a8" d="M87 136.5h3.6"/><path stroke="#a9a9a9" d="M87 133.5h3.6"/><path stroke="#aaaaaa" d="M72 112.5h3.6M90 142.5h3.6"/><path stroke="#ababab" d="M99 148.5h3.6"/><path stroke="#acacac" d="M87 139.5h3.6"/><path stroke="#adadad" d="M54 94.5h3.6"/><path stroke="#aeaeae" d="M81 124.5h3.6M84 127.5h3.6M93 145.5h3.6"/><path stroke="#afafaf" d="M66 106.5h3.6"/><path stroke="#b1b1b1" d="M69 109.5h3.6"/><path stroke="#b2b2b2" d="M96 148.5h3.6"/><path stroke="#b4b4b4" d="M57 100.5h3.6"/><path stroke="#b5b5b5" d="M75 121.5h3.6"/><path stroke="#b6b6b6" d="M60 103.5h3.6"/><path stroke="#b8b8b8" d="M54 97.5h3.6"/><path stroke="#bbbbbb" d="M90 145.5h3.6"/><path stroke="#bcbcbc" d="M84 130.5h3.6M93 148.5h3.6"/><path stroke="#bebebe" d="M87 142.5h3.6"/><path stroke="#c4c4c4" d="M63 106.5h3.6"/><path stroke="#c7c7c7" d="M72 115.5h3.6"/><path stroke="#c8c8c8" d="M54 100.5h3.6"/><path stroke="#cacaca" d="M57 103.5h3.6"/><path stroke="#cbcbcb" d="M90 148.5h3.6"/><path stroke="#cccccc" d="M84 133.5h3.6"/><path stroke="#cfcfcf" d="M81 127.5h3.6M87 145.5h3.6"/><path stroke="#d1d1d1" d="M69 112.5h3.6"/><path stroke="#d2d2d2" d="M84 136.5h3.6"/><path stroke="#d3d3d3" d="M78 124.5h3.6"/><path stroke="#d4d4d4" d="M66 109.5h3.6M72 118.5h3.6"/><path stroke="#d5d5d5" d="M60 106.5h3.6"/><path stroke="#d8d8d8" d="M84 139.5h3.6"/><path stroke="#dddddd" d="M54 103.5h3.6"/><path stroke="#dfdfdf" d="M87 148.5h3.6"/><path stroke="#e0e0e0" d="M72 121.5h3.6"/><path stroke="#e1e1e1" d="M84 142.5h3.6"/><path stroke="#e6e6e6" d="M57 106.5h3.6M75 124.5h3.6M81 130.5h3.6"/><path stroke="#e7e7e7" d="M63 109.5h3.6"/><path stroke="#ebebeb" d="M69 115.5h3.6"/><path stroke="#ededed" d="M84 145.5h3.6"/><path stroke="#f2f2f2" d="M66 112.5h3.6"/><path stroke="#f5f5f5" d="M78 127.5h3.6"/><path stroke="#f6f6f6" d="M60 109.5h3.6M81 133.5h3.6"/><path stroke="#f7f7f7" d="M54 106.5h3.6"/><path stroke="#f9f9f9" d="M84 148.5h3.6"/><path stroke="#fdfdfd" d="M69 118.5h3.6"/><path stroke="#fefefe" d="M81 136.5h3.6"/><path stroke="#ffffff" d="M54 109.5h3.6M57 109.5h3.6M54 112.5h3.6M57 112.5h3.6M60 112.5h3.6M63 112.5h3.6M57 115.5h3.6M60 115.5h3.6M63 115.5h3.6M66 115.5h3.6M57 118.5h3.6M60 118.5h3.6M63 118.5h3.6M66 118.5h3.6M60 121.5h3.6M63 121.5h3.6M66 121.5h3.6M69 121.5h3.6M63 124.5h3.6M66 124.5h3.6M69 124.5h3.6M72 124.5h3.6M66 127.5h3.6M69 127.5h3.6M72 127.5h3.6M75 127.5h3.6M66 130.5h3.6M69 130.5h3.6M72 130.5h3.6M75 130.5h3.6M78 130.5h3.6M69 133.5h3.6M72 133.5h3.6M75 133.5h3.6M78 133.5h3.6M72 136.5h3.6M75 136.5h3.6M78 136.5h3.6M72 139.5h3.6M75 139.5h3.6M78 139.5h3.6M81 139.5h3.6M72 142.5h3.6M75 142.5h3.6M78 142.5h3.6M81 142.5h3.6M72 145.5h3.6M75 145.5h3.6M78 145.5h3.6M81 145.5h3.6M75 148.5h3.6M78 148.5h3.6M81 148.5h3.6"/></g></g>
<use href="#ov"/>
<text x="127.4" y="18.6" font-size="16.8" font-weight="bold" text-anchor="middle" fill="#111">15/04/2003</text>
<path d="M44.5 208.8v-1.8M88.7 208.8v-1.8M132.8 208.8v-1.8M177 208.8v-1.8M221.1 208.8v-1.8" stroke="#222" stroke-width="0.6"/>
<g font-size="13.4" fill="#222" text-anchor="middle"><text x="44.5" y="227.7">0</text><text x="88.7" y="227.7">20</text><text x="132.8" y="227.7">40</text><text x="177" y="227.7">60</text><text x="221.1" y="227.7">80</text></g>
</g>
<g transform="translate(0,318.3)">
<g clip-path="url(#pc)"><g filter="url(#cm)" stroke-width="3.6" fill="none"><rect x="40" y="36" width="180" height="124" fill="#808080"/><path stroke="#000000" d="M72 70.5h3.6"/><path stroke="#050505" d="M69 67.5h3.6"/><path stroke="#080808" d="M72 73.5h3.6"/><path stroke="#0b0b0b" d="M72 64.5h3.6M72 67.5h3.6M75 70.5h3.6"/><path stroke="#0c0c0c" d="M69 64.5h3.6"/><path stroke="#0d0d0d" d="M69 70.5h3.6"/><path stroke="#0e0e0e" d="M66 67.5h3.6"/><path stroke="#0f0f0f" d="M69 73.5h3.6"/><path stroke="#101010" d="M66 64.5h3.6"/><path stroke="#121212" d="M75 73.5h3.6"/><path stroke="#131313" d="M75 67.5h3.6M66 70.5h3.6"/><path stroke="#141414" d="M63 67.5h3.6"/><path stroke="#151515" d="M63 64.5h3.6M75 64.5h3.6M165 97.5h3.6M168 97.5h3.6M165 100.5h3.6M168 100.5h3.6"/><path stroke="#161616" d="M63 70.5h3.6M66 73.5h3.6M165 103.5h3.6M168 103.5h3.6"/><path stroke="#171717" d="M60 67.5h3.6M165 94.5h3.6M162 97.5h3.6"/><path stroke="#181818" d="M69 61.5h3.6M69 76.5h3.6M162 94.5h3.6"/><path stroke="#191919" d="M72 61.5h3.6M60 64.5h3.6M60 70.5h3.6M72 76.5h3.6M171 97.5h3.6M171 100.5h3.6"/><path stroke="#1a1a1a" d="M66 61.5h3.6M57 67.5h3.6M63 73.5h3.6M162 91.5h3.6M168 94.5h3.6M162 100.5h3.6"/><path stroke="#1b1b1b" d="M63 61.5h3.6M57 64.5h3.6M66 76.5h3.6"/><path stroke="#1c1c1c" d="M57 70.5h3.6M165 91.5h3.6M174 97.5h3.6"/><path stroke="#1d1d1d" d="M60 61.5h3.6M60 73.5h3.6M168 106.5h3.6"/><path stroke="#1e1e1e" d="M159 94.5h3.6M171 94.5h3.6M162 103.5h3.6M165 106.5h3.6"/><path stroke="#1f1f1f" d="M57 73.5h3.6M159 91.5h3.6M159 97.5h3.6M174 100.5h3.6M171 103.5h3.6"/><path stroke="#202020" d="M63 76.5h3.6"/><path stroke="#212121" d="M162 88.5h3.6M177 97.5h3.6"/><path stroke="#222222" d="M75 61.5h3.6M78 70.5h3.6M168 91.5h3.6M174 94.5h3.6"/><path stroke="#232323" d="M60 76.5h3.6M159 100.5h3.6"/><path stroke="#242424" d="M60 58.5h3.6M159 88.5h3.6M177 100.5h3.6"/><path stroke="#252525" d="M63 58.5h3.6M57 76.5h3.6M75 76.5h3.6M165 88.5h3.6"/><path stroke="#262626" d="M66 58.5h3.6M78 67.5h3.6M177 94.5h3.6"/><path stroke="#272727" d="M78 73.5h3.6M171 91.5h3.6"/><path stroke="#282828" d="M66 79.5h3.6M69 79.5h3.6M180 97.5h3.6M174 103.5h3.6M162 106.5h3.6"/><path stroke="#292929" d="M156 91.5h3.6M156 94.5h3.6M180 100.5h3.6M171 106.5h3.6"/><path stroke="#2a2a2a" d="M69 58.5h3.6M159 103.5h3.6"/><path stroke="#2b2b2b" d="M60 55.5h3.6M78 64.5h3.6M63 79.5h3.6M174 91.5h3.6M156 97.5h3.6"/><path stroke="#2c2c2c" d="M168 88.5h3.6M180 94.5h3.6M177 103.5h3.6M168 109.5h3.6"/><path stroke="#2d2d2d" d="M60 79.5h3.6M156 88.5h3.6"/><path stroke="#2e2e2e" d="M63 55.5h3.6M177 91.5h3.6M183 97.5h3.6M183 100.5h3.6M180 103.5h3.6M165 109.5h3.6"/><path stroke="#2f2f2f" d="M54 79.5h3.6M57 79.5h3.6M72 79.5h3.6M162 85.5h3.6"/><path stroke="#303030" d="M159 85.5h3.6M183 94.5h3.6"/><path stroke="#313131" d="M72 58.5h3.6M180 91.5h3.6M186 97.5h3.6M156 100.5h3.6M186 100.5h3.6M183 103.5h3.6"/><path stroke="#323232" d="M66 55.5h3.6M186 94.5h3.6"/><path stroke="#333333" d="M60 52.5h3.6M78 61.5h3.6M171 88.5h3.6M183 91.5h3.6M189 97.5h3.6M189 100.5h3.6M186 103.5h3.6M171 109.5h3.6"/><path stroke="#343434" d="M165 85.5h3.6M186 91.5h3.6M189 94.5h3.6M192 97.5h3.6M174 106.5h3.6"/><path stroke="#353535" d="M189 91.5h3.6M192 94.5h3.6M195 97.5h3.6M192 100.5h3.6M189 103.5h3.6M159 106.5h3.6M180 106.5h3.6M183 106.5h3.6"/><path stroke="#363636" d="M174 88.5h3.6M177 88.5h3.6M180 88.5h3.6M183 88.5h3.6M192 91.5h3.6M195 94.5h3.6M192 103.5h3.6M177 106.5h3.6M186 106.5h3.6"/><path stroke="#373737" d="M63 52.5h3.6M75 58.5h3.6M186 88.5h3.6M195 91.5h3.6M198 91.5h3.6M189 106.5h3.6M162 109.5h3.6"/><path stroke="#383838" d="M69 55.5h3.6M81 70.5h3.6M78 76.5h3.6M156 85.5h3.6M189 88.5h3.6M192 88.5h3.6M195 88.5h3.6M153 91.5h3.6"/><path stroke="#393939" d="M81 67.5h3.6M198 88.5h3.6M201 88.5h3.6M153 94.5h3.6M156 103.5h3.6"/><path stroke="#3a3a3a" d="M54 82.5h3.6M168 85.5h3.6M153 88.5h3.6M174 109.5h3.6M186 109.5h3.6"/><path stroke="#3b3b3b" d="M57 82.5h3.6M183 85.5h3.6M186 85.5h3.6M189 85.5h3.6M192 85.5h3.6M195 85.5h3.6M198 85.5h3.6M201 85.5h3.6M180 109.5h3.6M183 109.5h3.6"/><path stroke="#3c3c3c" d="M66 52.5h3.6M60 82.5h3.6M63 82.5h3.6M180 85.5h3.6M153 97.5h3.6M177 109.5h3.6"/><path stroke="#3d3d3d" d="M81 64.5h3.6M81 73.5h3.6M75 79.5h3.6M66 82.5h3.6M168 112.5h3.6"/><path stroke="#3e3e3e" d="M63 49.5h3.6M195 82.5h3.6M198 82.5h3.6M171 85.5h3.6M177 85.5h3.6M171 112.5h3.6M186 112.5h3.6"/><path stroke="#3f3f3f" d="M72 55.5h3.6M69 82.5h3.6M189 82.5h3.6M192 82.5h3.6M165 112.5h3.6M183 112.5h3.6"/><path stroke="#404040" d="M78 58.5h3.6M174 85.5h3.6M174 112.5h3.6M180 112.5h3.6"/><path stroke="#414141" d="M186 82.5h3.6M153 100.5h3.6M177 112.5h3.6"/><path stroke="#424242" d="M69 52.5h3.6M198 79.5h3.6M201 79.5h3.6M183 82.5h3.6M153 85.5h3.6"/><path stroke="#434343" d="M63 46.5h3.6M66 49.5h3.6M81 61.5h3.6M195 79.5h3.6M156 106.5h3.6M159 109.5h3.6M183 115.5h3.6"/><path stroke="#444444" d="M192 79.5h3.6M162 82.5h3.6M180 82.5h3.6M180 115.5h3.6"/><path stroke="#454545" d="M75 55.5h3.6M201 76.5h3.6M189 79.5h3.6M159 82.5h3.6M177 115.5h3.6"/><path stroke="#464646" d="M198 76.5h3.6M165 82.5h3.6M54 85.5h3.6M174 115.5h3.6M183 118.5h3.6"/><path stroke="#474747" d="M72 82.5h3.6M162 112.5h3.6"/><path stroke="#484848" d="M66 46.5h3.6M69 49.5h3.6M72 52.5h3.6M84 67.5h3.6M195 76.5h3.6M186 79.5h3.6M177 82.5h3.6M171 115.5h3.6M180 118.5h3.6"/><path stroke="#494949" d="M84 64.5h3.6M84 70.5h3.6M192 76.5h3.6M57 85.5h3.6M150 88.5h3.6M150 91.5h3.6M153 103.5h3.6M177 118.5h3.6"/><path stroke="#4a4a4a" d="M78 55.5h3.6M81 58.5h3.6M156 82.5h3.6M168 82.5h3.6M168 115.5h3.6"/><path stroke="#4b4b4b" d="M198 73.5h3.6M81 76.5h3.6M183 79.5h3.6M174 82.5h3.6M174 118.5h3.6M183 121.5h3.6"/><path stroke="#4c4c4c" d="M75 52.5h3.6M189 76.5h3.6M171 82.5h3.6M150 94.5h3.6M180 121.5h3.6"/><path stroke="#4d4d4d" d="M69 46.5h3.6M72 49.5h3.6M84 61.5h3.6M195 73.5h3.6M60 85.5h3.6M150 85.5h3.6"/><path stroke="#4e4e4e" d="M201 70.5h3.6M177 121.5h3.6"/><path stroke="#4f4f4f" d="M81 55.5h3.6M78 79.5h3.6M180 79.5h3.6M150 97.5h3.6M156 109.5h3.6M165 115.5h3.6M171 118.5h3.6M183 124.5h3.6"/><path stroke="#505050" d="M78 52.5h3.6M198 70.5h3.6M84 73.5h3.6M192 73.5h3.6M186 76.5h3.6M174 121.5h3.6"/><path stroke="#515151" d="M72 46.5h3.6M75 49.5h3.6M84 58.5h3.6M153 82.5h3.6M180 124.5h3.6"/><path stroke="#525252" d="M84 55.5h3.6M87 55.5h3.6M87 58.5h3.6M87 61.5h3.6M87 64.5h3.6M87 67.5h3.6M63 85.5h3.6M153 106.5h3.6M159 112.5h3.6"/><path stroke="#535353" d="M81 52.5h3.6M201 67.5h3.6M195 70.5h3.6M189 73.5h3.6"/><path stroke="#545454" d="M78 49.5h3.6M84 52.5h3.6M87 52.5h3.6M90 55.5h3.6M183 76.5h3.6M177 79.5h3.6M54 88.5h3.6M150 100.5h3.6M177 124.5h3.6M183 127.5h3.6"/><path stroke="#555555" d="M75 46.5h3.6M90 58.5h3.6M198 67.5h3.6M87 70.5h3.6M75 82.5h3.6M168 118.5h3.6"/><path stroke="#565656" d="M81 49.5h3.6M192 70.5h3.6M66 85.5h3.6M171 121.5h3.6"/><path stroke="#575757" d="M84 49.5h3.6M90 52.5h3.6M90 61.5h3.6M162 115.5h3.6M180 127.5h3.6M186 130.5h3.6"/><path stroke="#585858" d="M78 46.5h3.6M87 49.5h3.6M90 64.5h3.6M195 67.5h3.6M186 73.5h3.6M147 88.5h3.6M174 124.5h3.6"/><path stroke="#595959" d="M81 46.5h3.6M90 67.5h3.6M174 79.5h3.6M150 82.5h3.6M147 85.5h3.6M57 88.5h3.6M150 103.5h3.6M183 130.5h3.6"/><path stroke="#5a5a5a" d="M90 49.5h3.6M189 70.5h3.6M180 76.5h3.6M147 91.5h3.6M177 127.5h3.6"/><path stroke="#5b5b5b" d="M84 46.5h3.6M93 55.5h3.6M162 79.5h3.6M165 79.5h3.6M168 79.5h3.6M171 79.5h3.6M153 109.5h3.6"/><path stroke="#5c5c5c" d="M87 46.5h3.6M93 52.5h3.6M93 58.5h3.6M192 67.5h3.6M84 76.5h3.6M159 79.5h3.6M69 85.5h3.6M156 112.5h3.6M165 118.5h3.6M180 130.5h3.6"/><path stroke="#5d5d5d" d="M93 61.5h3.6M93 64.5h3.6M90 70.5h3.6M87 73.5h3.6M183 73.5h3.6"/><path stroke="#5e5e5e" d="M90 46.5h3.6M93 67.5h3.6M81 79.5h3.6M156 79.5h3.6M168 121.5h3.6M171 124.5h3.6M183 133.5h3.6"/><path stroke="#5f5f5f" d="M93 49.5h3.6M186 70.5h3.6M147 94.5h3.6M159 115.5h3.6M174 127.5h3.6"/><path stroke="#606060" d="M189 67.5h3.6M60 88.5h3.6M150 106.5h3.6M177 130.5h3.6"/><path stroke="#616161" d="M96 67.5h3.6M177 76.5h3.6M54 91.5h3.6M147 97.5h3.6"/><path stroke="#626262" d="M93 46.5h3.6M96 64.5h3.6M93 70.5h3.6M147 82.5h3.6M180 133.5h3.6"/><path stroke="#636363" d="M96 52.5h3.6M96 55.5h3.6M96 58.5h3.6M96 61.5h3.6M153 79.5h3.6M72 85.5h3.6M162 118.5h3.6M183 136.5h3.6M186 139.5h3.6"/><path stroke="#646464" d="M96 49.5h3.6M96 70.5h3.6M180 73.5h3.6M147 100.5h3.6M153 112.5h3.6"/><path stroke="#656565" d="M99 67.5h3.6M186 67.5h3.6M183 70.5h3.6M78 82.5h3.6M174 130.5h3.6"/><path stroke="#666666" d="M96 46.5h3.6M90 73.5h3.6M144 85.5h3.6M144 88.5h3.6M150 109.5h3.6M165 121.5h3.6M171 127.5h3.6M177 133.5h3.6M180 136.5h3.6"/><path stroke="#676767" d="M99 64.5h3.6M99 70.5h3.6M114 73.5h3.6M174 76.5h3.6M156 115.5h3.6M168 124.5h3.6M183 139.5h3.6"/><path stroke="#686868" d="M117 73.5h3.6M150 79.5h3.6M147 103.5h3.6"/><path stroke="#696969" d="M99 61.5h3.6M102 67.5h3.6M87 76.5h3.6M120 76.5h3.6M63 88.5h3.6M57 91.5h3.6M144 91.5h3.6"/><path stroke="#6a6a6a" d="M99 49.5h3.6M99 52.5h3.6M99 55.5h3.6M99 58.5h3.6M102 64.5h3.6M186 64.5h3.6M102 70.5h3.6M111 70.5h3.6M114 70.5h3.6M111 73.5h3.6M117 76.5h3.6M123 76.5h3.6M171 76.5h3.6M144 82.5h3.6M174 133.5h3.6M177 136.5h3.6M180 139.5h3.6M183 142.5h3.6"/><path stroke="#6b6b6b" d="M99 46.5h3.6M105 67.5h3.6M183 67.5h3.6M180 70.5h3.6M93 73.5h3.6M120 73.5h3.6M177 73.5h3.6M114 76.5h3.6M84 79.5h3.6M159 118.5h3.6M171 130.5h3.6"/><path stroke="#6c6c6c" d="M105 70.5h3.6M108 70.5h3.6M117 70.5h3.6M96 73.5h3.6M168 76.5h3.6M147 106.5h3.6M150 112.5h3.6"/><path stroke="#6d6d6d" d="M102 61.5h3.6M105 64.5h3.6M108 67.5h3.6M144 94.5h3.6M153 115.5h3.6M183 145.5h3.6M186 148.5h3.6"/><path stroke="#6e6e6e" d="M111 67.5h3.6M99 73.5h3.6M108 73.5h3.6M126 76.5h3.6M165 76.5h3.6M147 79.5h3.6M162 121.5h3.6M168 127.5h3.6M177 139.5h3.6M180 142.5h3.6"/><path stroke="#6f6f6f" d="M102 49.5h3.6M102 52.5h3.6M102 55.5h3.6M102 58.5h3.6M186 61.5h3.6M114 67.5h3.6M123 73.5h3.6M111 76.5h3.6M120 79.5h3.6M123 79.5h3.6M81 82.5h3.6M54 94.5h3.6M144 97.5h3.6M147 109.5h3.6M165 124.5h3.6M174 136.5h3.6"/><path stroke="#707070" d="M105 61.5h3.6M108 64.5h3.6M183 64.5h3.6M102 73.5h3.6M105 73.5h3.6M162 76.5h3.6M171 133.5h3.6M180 145.5h3.6M183 148.5h3.6"/><path stroke="#717171" d="M180 67.5h3.6M120 70.5h3.6M159 76.5h3.6M117 79.5h3.6M75 85.5h3.6M141 85.5h3.6M144 100.5h3.6M156 118.5h3.6M177 142.5h3.6"/><path stroke="#727272" d="M105 58.5h3.6M111 64.5h3.6M177 70.5h3.6M174 73.5h3.6M156 76.5h3.6M126 79.5h3.6M144 79.5h3.6M141 82.5h3.6M66 88.5h3.6M147 112.5h3.6M150 115.5h3.6M168 130.5h3.6M174 139.5h3.6"/><path stroke="#737373" d="M105 55.5h3.6M108 61.5h3.6M117 67.5h3.6M90 76.5h3.6M108 76.5h3.6M141 88.5h3.6M60 91.5h3.6M144 103.5h3.6M171 136.5h3.6M180 148.5h3.6"/><path stroke="#747474" d="M105 49.5h3.6M105 52.5h3.6M183 61.5h3.6M126 73.5h3.6M129 76.5h3.6M153 76.5h3.6M114 79.5h3.6M153 118.5h3.6M159 121.5h3.6M177 145.5h3.6"/><path stroke="#757575" d="M108 58.5h3.6M111 61.5h3.6M114 64.5h3.6M141 79.5h3.6M141 91.5h3.6M144 106.5h3.6M147 115.5h3.6M168 133.5h3.6M174 142.5h3.6"/><path stroke="#767676" d="M180 64.5h3.6M171 73.5h3.6M129 79.5h3.6M138 79.5h3.6M144 109.5h3.6M144 112.5h3.6M162 124.5h3.6M165 127.5h3.6M171 139.5h3.6M177 148.5h3.6"/><path stroke="#777777" d="M108 52.5h3.6M108 55.5h3.6M183 58.5h3.6M123 70.5h3.6M132 76.5h3.6M111 79.5h3.6M132 79.5h3.6M135 79.5h3.6M150 118.5h3.6M174 145.5h3.6"/><path stroke="#787878" d="M108 49.5h3.6M111 58.5h3.6M114 61.5h3.6M177 67.5h3.6M105 76.5h3.6M135 76.5h3.6M150 76.5h3.6M138 82.5h3.6M141 94.5h3.6M144 115.5h3.6M156 121.5h3.6M168 136.5h3.6"/><path stroke="#797979" d="M111 55.5h3.6M180 61.5h3.6M117 64.5h3.6M120 67.5h3.6M174 70.5h3.6M129 73.5h3.6M168 73.5h3.6M93 76.5h3.6M138 76.5h3.6M87 79.5h3.6M123 82.5h3.6M57 94.5h3.6M147 118.5h3.6M165 130.5h3.6M171 142.5h3.6M174 148.5h3.6"/><path stroke="#7a7a7a" d="M183 55.5h3.6M96 76.5h3.6M99 76.5h3.6M102 76.5h3.6M141 76.5h3.6M120 82.5h3.6M141 97.5h3.6M141 112.5h3.6M141 115.5h3.6M144 118.5h3.6M165 133.5h3.6M168 139.5h3.6"/><path stroke="#7b7b7b" d="M111 49.5h3.6M111 52.5h3.6M114 58.5h3.6M144 76.5h3.6M108 79.5h3.6M84 82.5h3.6M126 82.5h3.6M138 85.5h3.6M141 109.5h3.6M153 121.5h3.6M159 124.5h3.6M162 127.5h3.6M165 136.5h3.6M171 145.5h3.6"/><path stroke="#7c7c7c" d="M180 58.5h3.6M117 61.5h3.6M177 64.5h3.6M165 73.5h3.6M147 76.5h3.6M117 82.5h3.6M135 82.5h3.6M78 85.5h3.6M54 97.5h3.6M141 100.5h3.6M141 106.5h3.6M141 118.5h3.6M150 121.5h3.6M168 142.5h3.6M171 148.5h3.6"/><path stroke="#7d7d7d" d="M114 55.5h3.6M132 73.5h3.6M69 88.5h3.6M141 103.5h3.6M144 121.5h3.6M147 121.5h3.6M162 130.5h3.6M165 139.5h3.6"/><path stroke="#7e7e7e" d="M114 49.5h3.6M114 52.5h3.6M180 55.5h3.6M174 67.5h3.6M126 70.5h3.6M171 70.5h3.6M135 73.5h3.6M114 82.5h3.6M138 88.5h3.6M138 112.5h3.6M138 115.5h3.6M141 121.5h3.6M156 124.5h3.6M162 133.5h3.6M162 136.5h3.6M168 145.5h3.6"/><path stroke="#7f7f7f" d="M117 58.5h3.6M177 61.5h3.6M120 64.5h3.6M138 73.5h3.6M162 73.5h3.6M105 79.5h3.6M129 82.5h3.6M132 82.5h3.6M63 91.5h3.6M138 118.5h3.6M153 124.5h3.6M159 127.5h3.6M165 142.5h3.6M168 148.5h3.6"/><path stroke="#808080" d="M117 55.5h3.6M177 58.5h3.6M159 73.5h3.6M111 82.5h3.6M81 85.5h3.6M138 91.5h3.6M144 124.5h3.6M147 124.5h3.6M150 124.5h3.6M162 139.5h3.6M165 145.5h3.6"/><path stroke="#818181" d="M117 49.5h3.6M117 52.5h3.6M123 67.5h3.6M141 73.5h3.6M156 73.5h3.6M138 109.5h3.6M138 121.5h3.6M141 124.5h3.6M156 127.5h3.6M159 130.5h3.6M159 133.5h3.6M159 136.5h3.6M162 142.5h3.6"/><path stroke="#828282" d="M177 55.5h3.6M120 61.5h3.6M174 64.5h3.6M129 70.5h3.6M168 70.5h3.6M153 73.5h3.6M108 82.5h3.6M138 94.5h3.6M159 139.5h3.6M165 148.5h3.6"/><path stroke="#838383" d="M120 52.5h3.6M177 52.5h3.6M120 55.5h3.6M120 58.5h3.6M174 61.5h3.6M144 73.5h3.6M102 79.5h3.6M123 85.5h3.6M138 97.5h3.6M138 106.5h3.6M135 115.5h3.6M144 127.5h3.6M147 127.5h3.6M150 127.5h3.6M153 127.5h3.6M156 130.5h3.6M162 145.5h3.6"/><path stroke="#848484" d="M120 49.5h3.6M171 67.5h3.6M132 70.5h3.6M150 73.5h3.6M90 79.5h3.6M120 85.5h3.6M135 85.5h3.6M135 112.5h3.6M141 127.5h3.6M156 133.5h3.6M156 136.5h3.6M159 142.5h3.6M162 148.5h3.6"/><path stroke="#858585" d="M174 55.5h3.6M174 58.5h3.6M135 70.5h3.6M147 73.5h3.6M105 82.5h3.6M60 94.5h3.6M138 100.5h3.6M138 103.5h3.6M138 124.5h3.6M153 130.5h3.6M156 139.5h3.6M159 145.5h3.6"/><path stroke="#868686" d="M123 49.5h3.6M123 52.5h3.6M174 52.5h3.6M123 55.5h3.6M138 70.5h3.6M165 70.5h3.6M126 85.5h3.6M135 118.5h3.6M141 130.5h3.6M144 130.5h3.6M147 130.5h3.6M150 130.5h3.6M153 133.5h3.6M156 142.5h3.6M159 148.5h3.6"/><path stroke="#878787" d="M174 49.5h3.6M123 58.5h3.6M123 64.5h3.6M171 64.5h3.6M99 79.5h3.6M117 85.5h3.6M57 97.5h3.6M54 100.5h3.6M135 109.5h3.6M138 127.5h3.6M153 136.5h3.6M156 145.5h3.6"/><path stroke="#888888" d="M174 46.5h3.6M126 49.5h3.6M126 52.5h3.6M126 55.5h3.6M171 55.5h3.6M171 58.5h3.6M123 61.5h3.6M171 61.5h3.6M126 67.5h3.6M168 67.5h3.6M141 70.5h3.6M162 70.5h3.6M108 85.5h3.6M111 85.5h3.6M114 85.5h3.6M138 130.5h3.6M141 133.5h3.6M144 133.5h3.6M147 133.5h3.6M150 133.5h3.6M153 139.5h3.6M153 142.5h3.6M156 148.5h3.6"/><path stroke="#898989" d="M171 49.5h3.6M129 52.5h3.6M171 52.5h3.6M129 55.5h3.6M126 58.5h3.6M129 58.5h3.6M87 82.5h3.6M84 85.5h3.6M72 88.5h3.6M123 88.5h3.6M135 88.5h3.6M138 133.5h3.6M138 136.5h3.6M141 136.5h3.6M144 136.5h3.6M150 136.5h3.6M150 139.5h3.6M150 142.5h3.6M153 145.5h3.6M153 148.5h3.6"/><path stroke="#8a8a8a" d="M129 49.5h3.6M129 61.5h3.6M144 70.5h3.6M156 70.5h3.6M159 70.5h3.6M93 79.5h3.6M96 79.5h3.6M102 82.5h3.6M105 85.5h3.6M129 85.5h3.6M132 85.5h3.6M135 91.5h3.6M135 94.5h3.6M135 106.5h3.6M135 121.5h3.6M147 136.5h3.6M141 139.5h3.6M144 139.5h3.6M147 139.5h3.6M144 142.5h3.6M147 142.5h3.6M147 145.5h3.6M150 145.5h3.6M150 148.5h3.6"/><path stroke="#8b8b8b" d="M132 52.5h3.6M168 52.5h3.6M132 55.5h3.6M168 55.5h3.6M132 58.5h3.6M168 58.5h3.6M132 61.5h3.6M168 61.5h3.6M168 64.5h3.6M132 67.5h3.6M165 67.5h3.6M147 70.5h3.6M150 70.5h3.6M153 70.5h3.6M120 88.5h3.6M126 88.5h3.6M126 91.5h3.6M135 97.5h3.6M138 139.5h3.6M141 142.5h3.6M144 145.5h3.6M147 148.5h3.6"/><path stroke="#8c8c8c" d="M132 49.5h3.6M168 49.5h3.6M126 61.5h3.6M129 67.5h3.6M135 67.5h3.6M123 91.5h3.6M135 100.5h3.6M135 103.5h3.6M135 124.5h3.6M135 130.5h3.6M135 133.5h3.6M135 136.5h3.6M144 148.5h3.6"/><path stroke="#8d8d8d" d="M132 64.5h3.6M138 67.5h3.6M141 67.5h3.6M132 115.5h3.6M111 127.5h3.6M135 127.5h3.6M138 142.5h3.6M141 145.5h3.6"/><path stroke="#8e8e8e" d="M165 46.5h3.6M135 49.5h3.6M165 49.5h3.6M135 52.5h3.6M165 52.5h3.6M135 55.5h3.6M165 55.5h3.6M165 58.5h3.6M165 61.5h3.6M165 64.5h3.6M144 67.5h3.6M162 67.5h3.6M102 85.5h3.6M117 88.5h3.6M66 91.5h3.6M120 91.5h3.6M129 91.5h3.6M126 94.5h3.6M132 112.5h3.6M111 130.5h3.6M135 139.5h3.6M141 148.5h3.6"/><path stroke="#8f8f8f" d="M135 58.5h3.6M126 64.5h3.6M135 64.5h3.6M147 67.5h3.6M150 67.5h3.6M153 67.5h3.6M156 67.5h3.6M159 67.5h3.6M105 88.5h3.6M108 88.5h3.6M111 88.5h3.6M114 88.5h3.6M123 94.5h3.6M129 94.5h3.6M132 94.5h3.6M111 133.5h3.6M114 133.5h3.6M114 136.5h3.6M132 136.5h3.6M138 145.5h3.6"/><path stroke="#909090" d="M138 49.5h3.6M162 49.5h3.6M138 52.5h3.6M162 52.5h3.6M162 55.5h3.6M162 58.5h3.6M135 61.5h3.6M129 64.5h3.6M162 64.5h3.6M117 91.5h3.6M117 94.5h3.6M120 94.5h3.6M114 130.5h3.6M132 133.5h3.6M117 136.5h3.6M117 139.5h3.6M132 139.5h3.6M135 142.5h3.6M138 148.5h3.6"/><path stroke="#919191" d="M141 49.5h3.6M159 49.5h3.6M159 52.5h3.6M138 55.5h3.6M162 61.5h3.6M138 64.5h3.6M141 64.5h3.6M144 64.5h3.6M147 64.5h3.6M150 64.5h3.6M159 64.5h3.6M99 82.5h3.6M114 91.5h3.6M132 91.5h3.6M114 97.5h3.6M132 97.5h3.6M54 103.5h3.6M132 109.5h3.6M117 133.5h3.6M111 136.5h3.6M120 136.5h3.6M129 136.5h3.6M114 139.5h3.6M120 139.5h3.6M123 139.5h3.6M126 139.5h3.6M129 139.5h3.6M135 145.5h3.6"/><path stroke="#929292" d="M156 46.5h3.6M144 49.5h3.6M156 49.5h3.6M141 52.5h3.6M156 52.5h3.6M141 55.5h3.6M159 55.5h3.6M138 58.5h3.6M159 58.5h3.6M144 61.5h3.6M147 61.5h3.6M150 61.5h3.6M159 61.5h3.6M153 64.5h3.6M156 64.5h3.6M102 88.5h3.6M129 88.5h3.6M132 88.5h3.6M114 94.5h3.6M117 97.5h3.6M132 118.5h3.6M111 124.5h3.6M132 130.5h3.6M123 136.5h3.6M126 136.5h3.6M114 142.5h3.6M117 142.5h3.6M120 142.5h3.6M123 142.5h3.6M126 142.5h3.6M129 142.5h3.6M132 142.5h3.6M117 145.5h3.6M120 145.5h3.6M123 145.5h3.6M135 148.5h3.6"/><path stroke="#939393" d="M147 49.5h3.6M150 49.5h3.6M153 49.5h3.6M144 52.5h3.6M147 52.5h3.6M150 52.5h3.6M153 52.5h3.6M144 55.5h3.6M147 55.5h3.6M150 55.5h3.6M153 55.5h3.6M156 55.5h3.6M141 58.5h3.6M144 58.5h3.6M147 58.5h3.6M150 58.5h3.6M153 58.5h3.6M156 58.5h3.6M138 61.5h3.6M141 61.5h3.6M153 61.5h3.6M156 61.5h3.6M111 91.5h3.6M120 97.5h3.6M129 97.5h3.6M57 100.5h3.6M114 100.5h3.6M132 100.5h3.6M132 106.5h3.6M129 133.5h3.6M111 139.5h3.6M114 145.5h3.6M126 145.5h3.6M129 145.5h3.6M132 145.5h3.6M111 148.5h3.6M114 148.5h3.6M117 148.5h3.6M120 148.5h3.6M123 148.5h3.6M126 148.5h3.6M129 148.5h3.6M132 148.5h3.6"/><path stroke="#949494" d="M63 94.5h3.6M60 97.5h3.6M123 97.5h3.6M126 97.5h3.6M132 103.5h3.6M120 133.5h3.6M126 133.5h3.6M111 142.5h3.6M111 145.5h3.6M99 148.5h3.6M102 148.5h3.6M105 148.5h3.6M108 148.5h3.6"/><path stroke="#959595" d="M108 91.5h3.6M111 94.5h3.6M111 97.5h3.6M117 100.5h3.6M114 127.5h3.6M108 133.5h3.6M123 133.5h3.6M108 136.5h3.6M99 145.5h3.6M102 145.5h3.6M105 145.5h3.6M108 145.5h3.6M96 148.5h3.6"/><path stroke="#969696" d="M90 82.5h3.6M75 88.5h3.6M111 100.5h3.6M132 127.5h3.6M108 130.5h3.6M108 139.5h3.6M99 142.5h3.6M108 142.5h3.6"/><path stroke="#979797" d="M105 91.5h3.6M108 127.5h3.6M117 130.5h3.6M129 130.5h3.6M102 142.5h3.6M105 142.5h3.6M96 145.5h3.6M93 148.5h3.6"/><path stroke="#989898" d="M87 85.5h3.6M99 85.5h3.6M129 100.5h3.6M54 106.5h3.6M132 121.5h3.6M102 139.5h3.6"/><path stroke="#999999" d="M96 82.5h3.6M120 100.5h3.6M114 103.5h3.6M132 124.5h3.6M99 139.5h3.6M105 139.5h3.6M96 142.5h3.6M90 148.5h3.6"/><path stroke="#9a9a9a" d="M108 94.5h3.6M126 100.5h3.6M108 124.5h3.6M126 130.5h3.6M105 136.5h3.6M93 145.5h3.6"/><path stroke="#9b9b9b" d="M81 88.5h3.6M123 100.5h3.6M129 103.5h3.6M87 148.5h3.6"/><path stroke="#9c9c9c" d="M93 82.5h3.6M78 88.5h3.6M102 91.5h3.6M111 103.5h3.6"/><path stroke="#9d9d9d" d="M84 88.5h3.6M99 88.5h3.6M57 103.5h3.6M120 130.5h3.6M123 130.5h3.6M102 136.5h3.6M96 139.5h3.6M90 145.5h3.6M84 148.5h3.6"/><path stroke="#9e9e9e" d="M117 103.5h3.6M129 106.5h3.6M54 109.5h3.6M111 121.5h3.6M114 124.5h3.6M105 133.5h3.6M93 142.5h3.6M81 148.5h3.6"/><path stroke="#9f9f9f" d="M108 97.5h3.6M87 145.5h3.6M75 148.5h3.6M78 148.5h3.6"/><path stroke="#a0a0a0" d="M69 91.5h3.6M129 109.5h3.6M129 112.5h3.6M129 127.5h3.6"/><path stroke="#a1a1a1" d="M105 94.5h3.6M126 103.5h3.6M54 112.5h3.6M129 115.5h3.6M99 136.5h3.6M90 142.5h3.6M84 145.5h3.6"/><path stroke="#a2a2a2" d="M60 100.5h3.6M117 127.5h3.6M72 145.5h3.6M81 145.5h3.6"/><path stroke="#a3a3a3" d="M120 103.5h3.6M93 139.5h3.6M75 145.5h3.6M78 145.5h3.6"/><path stroke="#a4a4a4" d="M96 85.5h3.6M108 100.5h3.6M123 103.5h3.6M57 106.5h3.6M114 106.5h3.6M108 121.5h3.6M87 142.5h3.6"/><path stroke="#a5a5a5" d="M99 91.5h3.6M105 130.5h3.6"/><path stroke="#a6a6a6" d="M90 85.5h3.6M87 88.5h3.6M63 97.5h3.6M102 133.5h3.6M72 142.5h3.6M84 142.5h3.6"/><path stroke="#a7a7a7" d="M66 94.5h3.6M111 106.5h3.6M111 118.5h3.6M75 142.5h3.6M78 142.5h3.6M81 142.5h3.6"/><path stroke="#a8a8a8" d="M102 94.5h3.6M129 118.5h3.6M96 136.5h3.6M90 139.5h3.6"/><path stroke="#a9a9a9" d="M126 106.5h3.6M57 109.5h3.6M126 127.5h3.6"/><path stroke="#aaaaaa" d="M105 97.5h3.6M129 124.5h3.6"/><path stroke="#ababab" d="M96 88.5h3.6M117 106.5h3.6M57 112.5h3.6M72 139.5h3.6M87 139.5h3.6"/><path stroke="#acacac" d="M60 103.5h3.6M108 103.5h3.6M57 115.5h3.6M57 118.5h3.6M108 118.5h3.6M114 121.5h3.6M120 127.5h3.6M75 139.5h3.6M78 139.5h3.6M81 139.5h3.6M84 139.5h3.6"/><path stroke="#adadad" d="M93 85.5h3.6M129 121.5h3.6"/><path stroke="#afafaf" d="M96 91.5h3.6M99 94.5h3.6M105 127.5h3.6M123 127.5h3.6M99 133.5h3.6M93 136.5h3.6"/><path stroke="#b0b0b0" d="M90 88.5h3.6M111 115.5h3.6M72 136.5h3.6"/><path stroke="#b1b1b1" d="M123 106.5h3.6M111 109.5h3.6M126 109.5h3.6M117 124.5h3.6M75 136.5h3.6"/><path stroke="#b2b2b2" d="M60 106.5h3.6M120 106.5h3.6M114 109.5h3.6M60 121.5h3.6M69 133.5h3.6M78 136.5h3.6"/><path stroke="#b3b3b3" d="M93 88.5h3.6M72 91.5h3.6M84 91.5h3.6M87 91.5h3.6M63 100.5h3.6M108 115.5h3.6M66 130.5h3.6M102 130.5h3.6M81 136.5h3.6M84 136.5h3.6"/><path stroke="#b4b4b4" d="M102 97.5h3.6M105 100.5h3.6M60 118.5h3.6M87 136.5h3.6M90 136.5h3.6"/><path stroke="#b5b5b5" d="M108 106.5h3.6M60 109.5h3.6M111 112.5h3.6M60 115.5h3.6M72 133.5h3.6"/><path stroke="#b6b6b6" d="M90 91.5h3.6M93 91.5h3.6M96 94.5h3.6M60 112.5h3.6M63 124.5h3.6"/><path stroke="#b7b7b7" d="M114 118.5h3.6M69 130.5h3.6M75 133.5h3.6"/><path stroke="#b8b8b8" d="M126 112.5h3.6M66 127.5h3.6M96 133.5h3.6"/><path stroke="#b9b9b9" d="M93 94.5h3.6M108 112.5h3.6M63 121.5h3.6M105 121.5h3.6M105 124.5h3.6"/><path stroke="#bababa" d="M90 94.5h3.6M108 109.5h3.6M78 133.5h3.6"/><path stroke="#bbbbbb" d="M81 91.5h3.6M66 97.5h3.6M99 97.5h3.6M105 118.5h3.6M72 130.5h3.6"/><path stroke="#bcbcbc" d="M87 94.5h3.6M63 103.5h3.6M63 118.5h3.6M66 124.5h3.6M126 124.5h3.6M69 127.5h3.6M81 133.5h3.6"/><path stroke="#bdbdbd" d="M90 97.5h3.6M93 97.5h3.6M96 97.5h3.6M114 112.5h3.6"/><path stroke="#bebebe" d="M90 100.5h3.6M117 109.5h3.6M63 115.5h3.6M114 115.5h3.6M126 115.5h3.6M75 130.5h3.6M99 130.5h3.6"/><path stroke="#bfbfbf" d="M69 94.5h3.6M90 103.5h3.6M105 103.5h3.6M66 121.5h3.6M84 133.5h3.6M93 133.5h3.6"/><path stroke="#c0c0c0" d="M75 91.5h3.6M102 100.5h3.6M63 106.5h3.6M123 109.5h3.6M63 112.5h3.6M105 115.5h3.6M120 124.5h3.6M72 127.5h3.6"/><path stroke="#c1c1c1" d="M87 97.5h3.6M93 100.5h3.6M87 103.5h3.6M63 109.5h3.6M69 124.5h3.6M102 127.5h3.6M78 130.5h3.6"/><path stroke="#c2c2c2" d="M87 100.5h3.6M87 106.5h3.6M66 118.5h3.6M117 121.5h3.6M87 133.5h3.6"/><path stroke="#c3c3c3" d="M84 94.5h3.6M90 106.5h3.6M75 127.5h3.6M90 133.5h3.6"/><path stroke="#c4c4c4" d="M78 91.5h3.6M126 118.5h3.6"/><path stroke="#c5c5c5" d="M93 103.5h3.6M66 115.5h3.6M69 121.5h3.6M126 121.5h3.6M72 124.5h3.6M81 130.5h3.6"/><path stroke="#c6c6c6" d="M96 100.5h3.6M99 100.5h3.6M87 109.5h3.6M120 109.5h3.6M105 112.5h3.6M123 124.5h3.6"/><path stroke="#c7c7c7" d="M66 100.5h3.6M105 106.5h3.6M78 127.5h3.6"/><path stroke="#c8c8c8" d="M90 109.5h3.6M105 109.5h3.6M66 112.5h3.6M69 118.5h3.6M96 130.5h3.6"/><path stroke="#c9c9c9" d="M102 121.5h3.6M75 124.5h3.6M102 124.5h3.6"/><path stroke="#cacaca" d="M84 106.5h3.6M93 106.5h3.6M102 118.5h3.6M72 121.5h3.6M84 130.5h3.6"/><path stroke="#cbcbcb" d="M102 103.5h3.6M66 109.5h3.6M84 109.5h3.6M81 127.5h3.6M99 127.5h3.6"/><path stroke="#cccccc" d="M84 97.5h3.6M69 115.5h3.6M78 124.5h3.6"/><path stroke="#cdcdcd" d="M84 103.5h3.6M96 103.5h3.6M87 112.5h3.6"/><path stroke="#cecece" d="M66 103.5h3.6M66 106.5h3.6M90 112.5h3.6M117 112.5h3.6M123 112.5h3.6M102 115.5h3.6M72 118.5h3.6M117 118.5h3.6M75 121.5h3.6"/><path stroke="#cfcfcf" d="M84 100.5h3.6M99 103.5h3.6M93 109.5h3.6M69 112.5h3.6M87 130.5h3.6"/><path stroke="#d0d0d0" d="M84 112.5h3.6M81 124.5h3.6M93 130.5h3.6"/><path stroke="#d1d1d1" d="M72 115.5h3.6M78 121.5h3.6M99 121.5h3.6M99 124.5h3.6M84 127.5h3.6"/><path stroke="#d2d2d2" d="M81 94.5h3.6M96 106.5h3.6M102 106.5h3.6M87 115.5h3.6M117 115.5h3.6M75 118.5h3.6M99 118.5h3.6M120 121.5h3.6M90 130.5h3.6"/><path stroke="#d3d3d3" d="M69 109.5h3.6M93 112.5h3.6M102 112.5h3.6M90 115.5h3.6M81 121.5h3.6M84 124.5h3.6M96 127.5h3.6"/><path stroke="#d4d4d4" d="M69 97.5h3.6M81 109.5h3.6M102 109.5h3.6M72 112.5h3.6M84 115.5h3.6M84 121.5h3.6M123 121.5h3.6"/><path stroke="#d5d5d5" d="M99 106.5h3.6M75 115.5h3.6M78 118.5h3.6M84 118.5h3.6M87 118.5h3.6"/><path stroke="#d6d6d6" d="M72 94.5h3.6M96 109.5h3.6M81 112.5h3.6M93 115.5h3.6M99 115.5h3.6M123 115.5h3.6M81 118.5h3.6M90 118.5h3.6M87 121.5h3.6M87 127.5h3.6"/><path stroke="#d7d7d7" d="M81 106.5h3.6M75 112.5h3.6M120 112.5h3.6M96 115.5h3.6M96 118.5h3.6M96 121.5h3.6M96 124.5h3.6"/><path stroke="#d8d8d8" d="M72 109.5h3.6M96 112.5h3.6M78 115.5h3.6M81 115.5h3.6M93 118.5h3.6M123 118.5h3.6M87 124.5h3.6"/><path stroke="#d9d9d9" d="M69 106.5h3.6M99 109.5h3.6M78 112.5h3.6M99 112.5h3.6M90 121.5h3.6M93 121.5h3.6"/><path stroke="#dadada" d="M93 127.5h3.6"/><path stroke="#dbdbdb" d="M78 109.5h3.6M90 124.5h3.6M93 124.5h3.6M90 127.5h3.6"/><path stroke="#dcdcdc" d="M81 103.5h3.6M75 109.5h3.6M120 118.5h3.6"/><path stroke="#dddddd" d="M69 100.5h3.6"/><path stroke="#dedede" d="M69 103.5h3.6M120 115.5h3.6"/><path stroke="#dfdfdf" d="M81 97.5h3.6"/><path stroke="#e1e1e1" d="M81 100.5h3.6M72 106.5h3.6M78 106.5h3.6"/><path stroke="#e3e3e3" d="M78 94.5h3.6"/><path stroke="#e5e5e5" d="M75 94.5h3.6M75 106.5h3.6"/><path stroke="#eaeaea" d="M78 103.5h3.6"/><path stroke="#ebebeb" d="M72 103.5h3.6"/><path stroke="#ececec" d="M72 97.5h3.6"/><path stroke="#f0f0f0" d="M75 103.5h3.6"/><path stroke="#f1f1f1" d="M78 97.5h3.6M72 100.5h3.6"/><path stroke="#f2f2f2" d="M78 100.5h3.6"/><path stroke="#fafafa" d="M75 97.5h3.6M75 100.5h3.6"/></g></g>
<use href="#ov"/>
<text x="127.4" y="18.6" font-size="16.8" font-weight="bold" text-anchor="middle" fill="#111">15/06/2003</text>
<path d="M39.2 208.8v-1.8M85.3 208.8v-1.8M131.4 208.8v-1.8M177.5 208.8v-1.8M223.6 208.8v-1.8" stroke="#222" stroke-width="0.6"/>
<g font-size="13.4" fill="#222" text-anchor="middle"><text x="39.2" y="227.7">-10</text><text x="85.3" y="227.7">0</text><text x="131.4" y="227.7">10</text><text x="177.5" y="227.7">20</text><text x="223.6" y="227.7">30</text></g>
</g>
<g transform="translate(260,318.3)">
<g clip-path="url(#pc)"><g filter="url(#cm)" stroke-width="3.6" fill="none"><rect x="40" y="36" width="180" height="124" fill="#808080"/><path stroke="#030303" d="M72 142.5h3.6M72 145.5h3.6"/><path stroke="#040404" d="M75 136.5h3.6M78 136.5h3.6M81 136.5h3.6M72 139.5h3.6M75 139.5h3.6M75 142.5h3.6M75 145.5h3.6M75 148.5h3.6"/><path stroke="#050505" d="M78 133.5h3.6M81 133.5h3.6M72 136.5h3.6M84 136.5h3.6M78 139.5h3.6"/><path stroke="#060606" d="M75 133.5h3.6M84 133.5h3.6M87 136.5h3.6M81 139.5h3.6M78 142.5h3.6M78 145.5h3.6M78 148.5h3.6"/><path stroke="#070707" d="M84 139.5h3.6"/><path stroke="#080808" d="M72 133.5h3.6M87 139.5h3.6M81 142.5h3.6M81 145.5h3.6"/><path stroke="#090909" d="M90 136.5h3.6M84 142.5h3.6M81 148.5h3.6"/><path stroke="#0a0a0a" d="M78 130.5h3.6M69 133.5h3.6M87 133.5h3.6M90 139.5h3.6"/><path stroke="#0b0b0b" d="M75 130.5h3.6M87 142.5h3.6M84 145.5h3.6"/><path stroke="#0c0c0c" d="M81 130.5h3.6M84 148.5h3.6"/><path stroke="#0d0d0d" d="M72 130.5h3.6M93 136.5h3.6M87 145.5h3.6"/><path stroke="#0e0e0e" d="M90 133.5h3.6M90 142.5h3.6"/><path stroke="#0f0f0f" d="M93 139.5h3.6M87 148.5h3.6"/><path stroke="#101010" d="M69 130.5h3.6M84 130.5h3.6"/><path stroke="#111111" d="M90 145.5h3.6"/><path stroke="#131313" d="M75 127.5h3.6M78 127.5h3.6M66 130.5h3.6M93 133.5h3.6M93 142.5h3.6M90 148.5h3.6"/><path stroke="#141414" d="M96 136.5h3.6"/><path stroke="#151515" d="M72 127.5h3.6"/><path stroke="#161616" d="M96 139.5h3.6M93 145.5h3.6"/><path stroke="#171717" d="M81 127.5h3.6M87 130.5h3.6M93 148.5h3.6"/><path stroke="#181818" d="M69 127.5h3.6"/><path stroke="#191919" d="M96 133.5h3.6"/><path stroke="#1a1a1a" d="M99 136.5h3.6M96 142.5h3.6"/><path stroke="#1c1c1c" d="M66 127.5h3.6M96 145.5h3.6"/><path stroke="#1d1d1d" d="M75 124.5h3.6M90 130.5h3.6M96 148.5h3.6"/><path stroke="#1e1e1e" d="M78 124.5h3.6M99 133.5h3.6"/><path stroke="#1f1f1f" d="M72 124.5h3.6M84 127.5h3.6M99 139.5h3.6"/><path stroke="#222222" d="M93 130.5h3.6M102 136.5h3.6"/><path stroke="#232323" d="M69 124.5h3.6M99 142.5h3.6M99 145.5h3.6M99 148.5h3.6"/><path stroke="#242424" d="M81 124.5h3.6"/><path stroke="#252525" d="M102 133.5h3.6"/><path stroke="#262626" d="M66 124.5h3.6"/><path stroke="#272727" d="M96 130.5h3.6"/><path stroke="#282828" d="M102 139.5h3.6M102 148.5h3.6"/><path stroke="#292929" d="M63 124.5h3.6M87 127.5h3.6M102 145.5h3.6"/><path stroke="#2a2a2a" d="M102 142.5h3.6"/><path stroke="#2b2b2b" d="M75 121.5h3.6M78 121.5h3.6M105 136.5h3.6"/><path stroke="#2c2c2c" d="M105 139.5h3.6M105 148.5h3.6"/><path stroke="#2d2d2d" d="M72 121.5h3.6M105 145.5h3.6"/><path stroke="#2e2e2e" d="M84 124.5h3.6M99 130.5h3.6M105 142.5h3.6M108 148.5h3.6"/><path stroke="#2f2f2f" d="M69 121.5h3.6M90 127.5h3.6M108 139.5h3.6M108 142.5h3.6M108 145.5h3.6"/><path stroke="#303030" d="M105 133.5h3.6M108 136.5h3.6M111 148.5h3.6"/><path stroke="#313131" d="M111 139.5h3.6M111 142.5h3.6M111 145.5h3.6"/><path stroke="#323232" d="M66 121.5h3.6M114 148.5h3.6"/><path stroke="#333333" d="M81 121.5h3.6M93 127.5h3.6M111 136.5h3.6M114 142.5h3.6M114 145.5h3.6"/><path stroke="#343434" d="M63 121.5h3.6M114 139.5h3.6"/><path stroke="#353535" d="M102 130.5h3.6M117 148.5h3.6"/><path stroke="#363636" d="M60 121.5h3.6M117 145.5h3.6"/><path stroke="#373737" d="M117 142.5h3.6"/><path stroke="#383838" d="M108 133.5h3.6M114 136.5h3.6"/><path stroke="#393939" d="M87 124.5h3.6M96 127.5h3.6M117 139.5h3.6M120 148.5h3.6"/><path stroke="#3a3a3a" d="M120 145.5h3.6"/><path stroke="#3b3b3b" d="M120 142.5h3.6"/><path stroke="#3c3c3c" d="M75 118.5h3.6M111 133.5h3.6"/><path stroke="#3d3d3d" d="M72 118.5h3.6M78 118.5h3.6M117 136.5h3.6"/><path stroke="#3e3e3e" d="M69 118.5h3.6M84 121.5h3.6M120 139.5h3.6M123 148.5h3.6"/><path stroke="#3f3f3f" d="M66 118.5h3.6M90 124.5h3.6M105 130.5h3.6M123 145.5h3.6"/><path stroke="#404040" d="M99 127.5h3.6M114 133.5h3.6"/><path stroke="#414141" d="M63 118.5h3.6M123 142.5h3.6"/><path stroke="#424242" d="M60 118.5h3.6M120 136.5h3.6"/><path stroke="#434343" d="M57 118.5h3.6M93 124.5h3.6"/><path stroke="#444444" d="M81 118.5h3.6M108 130.5h3.6M117 133.5h3.6M123 139.5h3.6M126 148.5h3.6"/><path stroke="#454545" d="M102 127.5h3.6M126 145.5h3.6"/><path stroke="#474747" d="M87 121.5h3.6M96 124.5h3.6M111 130.5h3.6"/><path stroke="#484848" d="M120 133.5h3.6M123 136.5h3.6M126 142.5h3.6"/><path stroke="#4a4a4a" d="M114 130.5h3.6M129 148.5h3.6"/><path stroke="#4b4b4b" d="M105 127.5h3.6M126 139.5h3.6"/><path stroke="#4c4c4c" d="M90 121.5h3.6M99 124.5h3.6M129 145.5h3.6"/><path stroke="#4d4d4d" d="M63 115.5h3.6M66 115.5h3.6M69 115.5h3.6M72 115.5h3.6M84 118.5h3.6M117 130.5h3.6"/><path stroke="#4e4e4e" d="M57 115.5h3.6M60 115.5h3.6M75 115.5h3.6M123 133.5h3.6"/><path stroke="#4f4f4f" d="M108 127.5h3.6M126 136.5h3.6M129 142.5h3.6"/><path stroke="#505050" d="M78 115.5h3.6M93 121.5h3.6M102 124.5h3.6M120 130.5h3.6"/><path stroke="#525252" d="M132 148.5h3.6"/><path stroke="#535353" d="M96 121.5h3.6M105 124.5h3.6M111 127.5h3.6M129 139.5h3.6"/><path stroke="#545454" d="M81 115.5h3.6M87 118.5h3.6M132 145.5h3.6"/><path stroke="#555555" d="M99 121.5h3.6M114 127.5h3.6M123 130.5h3.6M126 133.5h3.6"/><path stroke="#575757" d="M117 127.5h3.6M132 142.5h3.6"/><path stroke="#585858" d="M90 118.5h3.6M102 121.5h3.6M108 124.5h3.6M129 136.5h3.6"/><path stroke="#595959" d="M54 112.5h3.6M57 112.5h3.6M60 112.5h3.6M120 127.5h3.6"/><path stroke="#5a5a5a" d="M63 112.5h3.6M66 112.5h3.6M105 121.5h3.6M126 130.5h3.6M135 148.5h3.6"/><path stroke="#5b5b5b" d="M69 112.5h3.6M84 115.5h3.6M93 118.5h3.6M132 139.5h3.6"/><path stroke="#5c5c5c" d="M72 112.5h3.6M111 124.5h3.6M123 127.5h3.6M129 133.5h3.6M135 145.5h3.6"/><path stroke="#5d5d5d" d="M75 112.5h3.6M96 118.5h3.6"/><path stroke="#5e5e5e" d="M99 118.5h3.6"/><path stroke="#5f5f5f" d="M78 112.5h3.6M108 121.5h3.6M114 124.5h3.6"/><path stroke="#606060" d="M87 115.5h3.6M102 118.5h3.6M126 127.5h3.6M132 136.5h3.6M135 142.5h3.6"/><path stroke="#616161" d="M117 124.5h3.6M129 130.5h3.6"/><path stroke="#636363" d="M54 109.5h3.6M81 112.5h3.6M90 115.5h3.6M105 118.5h3.6M120 124.5h3.6M138 148.5h3.6"/><path stroke="#646464" d="M57 109.5h3.6M60 109.5h3.6M123 124.5h3.6M135 139.5h3.6"/><path stroke="#656565" d="M63 109.5h3.6M93 115.5h3.6M111 121.5h3.6M129 127.5h3.6M132 133.5h3.6"/><path stroke="#666666" d="M66 109.5h3.6M138 145.5h3.6"/><path stroke="#676767" d="M69 109.5h3.6M84 112.5h3.6M96 115.5h3.6M126 124.5h3.6"/><path stroke="#686868" d="M99 115.5h3.6M108 118.5h3.6M114 121.5h3.6"/><path stroke="#696969" d="M72 109.5h3.6M132 130.5h3.6M135 136.5h3.6"/><path stroke="#6a6a6a" d="M75 109.5h3.6M87 112.5h3.6M102 115.5h3.6M138 142.5h3.6"/><path stroke="#6b6b6b" d="M117 121.5h3.6M129 124.5h3.6"/><path stroke="#6c6c6c" d="M78 109.5h3.6M90 112.5h3.6M120 121.5h3.6M141 148.5h3.6"/><path stroke="#6d6d6d" d="M54 106.5h3.6M123 121.5h3.6"/><path stroke="#6e6e6e" d="M57 106.5h3.6M60 106.5h3.6M81 109.5h3.6M93 112.5h3.6M105 115.5h3.6M111 118.5h3.6M126 121.5h3.6M132 127.5h3.6M135 133.5h3.6M138 139.5h3.6"/><path stroke="#6f6f6f" d="M63 106.5h3.6M66 106.5h3.6M141 145.5h3.6"/><path stroke="#707070" d="M84 109.5h3.6M96 112.5h3.6"/><path stroke="#717171" d="M69 106.5h3.6M129 121.5h3.6"/><path stroke="#727272" d="M72 106.5h3.6M87 109.5h3.6M99 112.5h3.6M114 118.5h3.6M132 124.5h3.6M135 130.5h3.6M138 136.5h3.6"/><path stroke="#737373" d="M75 106.5h3.6M90 109.5h3.6M102 112.5h3.6M108 115.5h3.6M141 142.5h3.6M144 148.5h3.6"/><path stroke="#747474" d="M78 106.5h3.6M117 118.5h3.6"/><path stroke="#757575" d="M93 109.5h3.6M120 118.5h3.6M138 133.5h3.6"/><path stroke="#767676" d="M54 103.5h3.6M81 106.5h3.6M123 118.5h3.6M126 118.5h3.6M141 139.5h3.6"/><path stroke="#777777" d="M57 103.5h3.6M84 106.5h3.6M96 109.5h3.6M105 112.5h3.6M132 121.5h3.6M135 127.5h3.6M144 145.5h3.6"/><path stroke="#787878" d="M60 103.5h3.6M63 103.5h3.6M66 103.5h3.6M87 106.5h3.6M99 109.5h3.6M111 115.5h3.6M129 118.5h3.6"/><path stroke="#797979" d="M69 103.5h3.6M90 106.5h3.6M102 109.5h3.6M138 130.5h3.6M141 136.5h3.6M147 148.5h3.6"/><path stroke="#7a7a7a" d="M72 103.5h3.6M75 103.5h3.6M93 106.5h3.6M114 115.5h3.6"/><path stroke="#7b7b7b" d="M78 103.5h3.6M96 106.5h3.6M99 106.5h3.6M108 112.5h3.6M141 133.5h3.6M144 142.5h3.6"/><path stroke="#7c7c7c" d="M102 106.5h3.6M117 115.5h3.6M132 118.5h3.6M135 124.5h3.6"/><path stroke="#7d7d7d" d="M81 103.5h3.6M84 103.5h3.6M105 109.5h3.6M144 139.5h3.6M147 145.5h3.6M150 148.5h3.6"/><path stroke="#7e7e7e" d="M54 100.5h3.6M87 103.5h3.6M90 103.5h3.6M120 115.5h3.6M129 115.5h3.6M135 121.5h3.6M138 127.5h3.6M144 136.5h3.6"/><path stroke="#7f7f7f" d="M66 100.5h3.6M93 103.5h3.6M105 106.5h3.6M111 112.5h3.6M123 115.5h3.6M126 115.5h3.6M141 130.5h3.6"/><path stroke="#808080" d="M57 100.5h3.6M63 100.5h3.6M69 100.5h3.6M96 103.5h3.6M99 103.5h3.6M108 109.5h3.6M144 133.5h3.6M147 142.5h3.6"/><path stroke="#818181" d="M60 100.5h3.6M72 100.5h3.6M102 103.5h3.6M114 112.5h3.6M132 115.5h3.6M138 124.5h3.6M147 139.5h3.6M150 145.5h3.6M153 148.5h3.6"/><path stroke="#828282" d="M75 100.5h3.6M78 100.5h3.6M135 118.5h3.6M141 127.5h3.6M144 130.5h3.6M147 136.5h3.6"/><path stroke="#838383" d="M81 100.5h3.6M105 103.5h3.6M108 106.5h3.6M117 112.5h3.6M147 133.5h3.6M150 142.5h3.6"/><path stroke="#848484" d="M168 82.5h3.6M171 82.5h3.6M174 82.5h3.6M174 85.5h3.6M84 100.5h3.6M87 100.5h3.6M111 109.5h3.6M138 121.5h3.6M144 127.5h3.6M150 139.5h3.6M153 145.5h3.6M156 148.5h3.6"/><path stroke="#858585" d="M165 82.5h3.6M171 85.5h3.6M54 97.5h3.6M90 100.5h3.6M120 112.5h3.6M129 112.5h3.6M141 124.5h3.6M147 130.5h3.6M150 136.5h3.6"/><path stroke="#868686" d="M168 79.5h3.6M114 109.5h3.6M147 127.5h3.6M150 133.5h3.6M153 142.5h3.6M156 145.5h3.6"/><path stroke="#878787" d="M171 79.5h3.6M168 85.5h3.6M177 85.5h3.6M57 97.5h3.6M66 97.5h3.6M93 100.5h3.6M108 103.5h3.6M126 112.5h3.6M135 115.5h3.6M138 118.5h3.6M141 121.5h3.6M144 124.5h3.6M150 130.5h3.6M153 139.5h3.6M159 148.5h3.6"/><path stroke="#888888" d="M165 79.5h3.6M174 79.5h3.6M60 97.5h3.6M63 97.5h3.6M69 97.5h3.6M111 106.5h3.6M117 109.5h3.6M123 112.5h3.6M132 112.5h3.6M147 124.5h3.6M150 127.5h3.6M153 136.5h3.6M156 142.5h3.6"/><path stroke="#898989" d="M72 97.5h3.6M96 100.5h3.6M141 118.5h3.6M144 121.5h3.6M150 124.5h3.6M153 133.5h3.6M159 145.5h3.6M162 148.5h3.6"/><path stroke="#8a8a8a" d="M177 82.5h3.6M165 85.5h3.6M75 97.5h3.6M78 97.5h3.6M120 109.5h3.6M147 121.5h3.6M150 121.5h3.6M153 127.5h3.6M153 130.5h3.6M156 139.5h3.6"/><path stroke="#8b8b8b" d="M168 76.5h3.6M162 82.5h3.6M177 88.5h3.6M54 94.5h3.6M81 97.5h3.6M84 97.5h3.6M99 100.5h3.6M114 106.5h3.6M138 115.5h3.6M144 118.5h3.6M147 118.5h3.6M153 124.5h3.6M156 136.5h3.6M159 142.5h3.6M165 148.5h3.6"/><path stroke="#8c8c8c" d="M171 76.5h3.6M162 79.5h3.6M174 88.5h3.6M57 94.5h3.6M87 97.5h3.6M129 109.5h3.6M162 145.5h3.6"/><path stroke="#8d8d8d" d="M144 49.5h3.6M144 52.5h3.6M147 52.5h3.6M147 55.5h3.6M150 55.5h3.6M165 76.5h3.6M60 94.5h3.6M117 106.5h3.6M123 109.5h3.6M126 109.5h3.6M141 115.5h3.6M150 118.5h3.6M153 121.5h3.6M156 133.5h3.6M159 139.5h3.6M168 148.5h3.6M171 148.5h3.6"/><path stroke="#8e8e8e" d="M141 49.5h3.6M147 49.5h3.6M141 52.5h3.6M150 52.5h3.6M144 55.5h3.6M150 58.5h3.6M174 76.5h3.6M177 79.5h3.6M63 94.5h3.6M66 94.5h3.6M90 97.5h3.6M111 103.5h3.6M135 112.5h3.6M144 115.5h3.6M147 115.5h3.6M156 130.5h3.6M159 136.5h3.6M162 142.5h3.6M165 145.5h3.6M174 148.5h3.6M177 148.5h3.6"/><path stroke="#8f8f8f" d="M141 55.5h3.6M147 58.5h3.6M153 58.5h3.6M153 61.5h3.6M156 67.5h3.6M156 70.5h3.6M162 76.5h3.6M69 94.5h3.6M102 100.5h3.6M105 100.5h3.6M120 106.5h3.6M153 118.5h3.6M156 127.5h3.6M162 139.5h3.6M168 145.5h3.6M171 145.5h3.6M174 145.5h3.6M180 148.5h3.6"/><path stroke="#909090" d="M138 49.5h3.6M150 49.5h3.6M138 52.5h3.6M153 55.5h3.6M150 61.5h3.6M153 64.5h3.6M153 67.5h3.6M159 70.5h3.6M156 73.5h3.6M159 79.5h3.6M171 88.5h3.6M180 88.5h3.6M54 91.5h3.6M132 109.5h3.6M150 115.5h3.6M156 124.5h3.6M165 142.5h3.6M174 142.5h3.6M177 145.5h3.6M180 145.5h3.6M183 148.5h3.6M186 148.5h3.6"/><path stroke="#919191" d="M153 52.5h3.6M138 55.5h3.6M156 64.5h3.6M159 73.5h3.6M165 73.5h3.6M168 73.5h3.6M159 76.5h3.6M57 91.5h3.6M72 94.5h3.6M108 100.5h3.6M159 133.5h3.6M162 136.5h3.6M174 136.5h3.6M165 139.5h3.6M171 139.5h3.6M174 139.5h3.6M177 139.5h3.6M168 142.5h3.6M171 142.5h3.6M177 142.5h3.6M180 142.5h3.6M183 145.5h3.6"/><path stroke="#929292" d="M144 58.5h3.6M156 61.5h3.6M159 67.5h3.6M153 70.5h3.6M162 73.5h3.6M159 82.5h3.6M162 85.5h3.6M180 85.5h3.6M60 91.5h3.6M75 94.5h3.6M138 112.5h3.6M156 121.5h3.6M171 136.5h3.6M177 136.5h3.6M180 136.5h3.6M168 139.5h3.6M180 139.5h3.6M183 139.5h3.6M183 142.5h3.6"/><path stroke="#939393" d="M153 49.5h3.6M156 58.5h3.6M162 70.5h3.6M171 73.5h3.6M156 76.5h3.6M177 76.5h3.6M63 91.5h3.6M180 91.5h3.6M78 94.5h3.6M81 94.5h3.6M84 94.5h3.6M93 97.5h3.6M129 106.5h3.6M141 112.5h3.6M144 112.5h3.6M147 112.5h3.6M174 133.5h3.6M177 133.5h3.6M180 133.5h3.6M165 136.5h3.6M168 136.5h3.6M183 136.5h3.6M186 139.5h3.6"/><path stroke="#949494" d="M135 49.5h3.6M135 52.5h3.6M156 55.5h3.6M141 58.5h3.6M147 61.5h3.6M150 64.5h3.6M159 64.5h3.6M153 73.5h3.6M54 88.5h3.6M168 88.5h3.6M66 91.5h3.6M114 103.5h3.6M123 106.5h3.6M153 115.5h3.6M156 118.5h3.6M159 130.5h3.6M162 133.5h3.6M171 133.5h3.6M183 133.5h3.6"/><path stroke="#959595" d="M156 52.5h3.6M135 55.5h3.6M162 67.5h3.6M165 70.5h3.6M57 88.5h3.6M69 91.5h3.6M177 91.5h3.6M87 94.5h3.6M126 106.5h3.6M177 130.5h3.6"/><path stroke="#969696" d="M138 58.5h3.6M174 73.5h3.6M156 79.5h3.6M60 88.5h3.6M135 109.5h3.6M174 130.5h3.6M180 130.5h3.6M168 133.5h3.6"/><path stroke="#979797" d="M156 49.5h3.6M159 61.5h3.6M168 70.5h3.6M180 82.5h3.6M63 88.5h3.6M72 91.5h3.6M117 103.5h3.6M132 106.5h3.6M150 112.5h3.6M159 127.5h3.6M183 130.5h3.6M165 133.5h3.6"/><path stroke="#989898" d="M135 58.5h3.6M159 58.5h3.6M150 67.5h3.6M165 67.5h3.6M66 88.5h3.6M183 91.5h3.6M171 130.5h3.6M186 130.5h3.6"/><path stroke="#999999" d="M156 46.5h3.6M132 49.5h3.6M132 52.5h3.6M159 55.5h3.6M162 64.5h3.6M54 85.5h3.6M57 85.5h3.6M60 85.5h3.6M69 88.5h3.6M183 88.5h3.6M90 94.5h3.6M96 97.5h3.6M144 109.5h3.6M156 115.5h3.6M162 130.5h3.6"/><path stroke="#9a9a9a" d="M159 52.5h3.6M132 55.5h3.6M171 70.5h3.6M153 76.5h3.6M156 82.5h3.6M63 85.5h3.6M165 88.5h3.6M75 91.5h3.6M81 91.5h3.6M174 91.5h3.6M111 100.5h3.6M138 109.5h3.6M141 109.5h3.6M147 109.5h3.6M159 124.5h3.6M177 127.5h3.6M180 127.5h3.6M183 127.5h3.6"/><path stroke="#9b9b9b" d="M144 61.5h3.6M168 67.5h3.6M180 79.5h3.6M66 85.5h3.6M78 91.5h3.6M84 91.5h3.6M174 127.5h3.6"/><path stroke="#9c9c9c" d="M159 49.5h3.6M162 61.5h3.6M165 64.5h3.6M177 73.5h3.6M159 85.5h3.6M72 88.5h3.6M183 94.5h3.6M120 103.5h3.6M129 103.5h3.6M159 121.5h3.6M168 130.5h3.6"/><path stroke="#9d9d9d" d="M132 58.5h3.6M162 58.5h3.6M54 82.5h3.6M57 82.5h3.6M69 85.5h3.6M87 91.5h3.6M180 94.5h3.6M153 112.5h3.6M159 118.5h3.6M165 130.5h3.6"/><path stroke="#9e9e9e" d="M162 55.5h3.6M135 61.5h3.6M138 61.5h3.6M141 61.5h3.6M147 64.5h3.6M60 82.5h3.6M63 82.5h3.6M66 82.5h3.6M183 124.5h3.6M171 127.5h3.6"/><path stroke="#9f9f9f" d="M129 49.5h3.6M129 52.5h3.6M165 61.5h3.6M150 70.5h3.6M174 70.5h3.6M180 76.5h3.6M153 79.5h3.6M183 85.5h3.6M75 88.5h3.6M186 91.5h3.6M93 94.5h3.6M135 106.5h3.6M180 124.5h3.6"/><path stroke="#a0a0a0" d="M162 52.5h3.6M129 55.5h3.6M168 64.5h3.6M171 67.5h3.6M72 85.5h3.6M78 88.5h3.6M171 91.5h3.6M186 94.5h3.6M114 100.5h3.6M132 103.5h3.6M150 109.5h3.6M177 124.5h3.6M162 127.5h3.6"/><path stroke="#a1a1a1" d="M162 49.5h3.6M132 61.5h3.6M69 82.5h3.6M81 88.5h3.6M126 103.5h3.6M159 115.5h3.6"/><path stroke="#a2a2a2" d="M165 58.5h3.6M54 79.5h3.6M99 97.5h3.6M123 103.5h3.6"/><path stroke="#a3a3a3" d="M129 58.5h3.6M57 79.5h3.6M60 79.5h3.6M63 79.5h3.6M75 85.5h3.6M84 88.5h3.6M162 88.5h3.6M186 88.5h3.6M90 91.5h3.6M144 106.5h3.6M147 106.5h3.6M174 124.5h3.6"/><path stroke="#a4a4a4" d="M165 55.5h3.6M168 61.5h3.6M66 79.5h3.6M72 82.5h3.6M156 85.5h3.6M186 97.5h3.6M117 100.5h3.6M138 106.5h3.6M141 106.5h3.6M183 121.5h3.6M168 127.5h3.6"/><path stroke="#a5a5a5" d="M165 52.5h3.6M171 64.5h3.6M177 70.5h3.6M150 73.5h3.6M180 73.5h3.6M153 82.5h3.6M78 85.5h3.6M177 94.5h3.6M183 97.5h3.6M156 112.5h3.6M180 121.5h3.6M165 127.5h3.6"/><path stroke="#a6a6a6" d="M126 49.5h3.6M126 52.5h3.6M174 67.5h3.6M183 82.5h3.6M87 88.5h3.6M189 94.5h3.6M162 124.5h3.6"/><path stroke="#a7a7a7" d="M165 49.5h3.6M126 55.5h3.6M168 58.5h3.6M132 64.5h3.6M135 64.5h3.6M69 79.5h3.6M75 82.5h3.6M81 85.5h3.6M168 91.5h3.6M189 97.5h3.6M129 100.5h3.6"/><path stroke="#a8a8a8" d="M129 61.5h3.6M57 76.5h3.6M189 91.5h3.6M108 97.5h3.6M177 121.5h3.6M171 124.5h3.6"/><path stroke="#a9a9a9" d="M165 46.5h3.6M168 55.5h3.6M171 61.5h3.6M144 64.5h3.6M147 67.5h3.6M60 76.5h3.6M96 94.5h3.6M105 97.5h3.6M150 106.5h3.6M153 109.5h3.6M183 118.5h3.6M162 121.5h3.6"/><path stroke="#aaaaaa" d="M126 58.5h3.6M63 76.5h3.6M150 76.5h3.6M72 79.5h3.6M84 85.5h3.6M102 97.5h3.6M120 100.5h3.6M186 100.5h3.6M189 100.5h3.6"/><path stroke="#ababab" d="M168 52.5h3.6M138 64.5h3.6M174 64.5h3.6M183 79.5h3.6M78 82.5h3.6M186 85.5h3.6M93 91.5h3.6M132 100.5h3.6M135 103.5h3.6M162 118.5h3.6M174 121.5h3.6"/><path stroke="#acacac" d="M171 58.5h3.6M177 67.5h3.6M66 76.5h3.6M111 97.5h3.6M180 97.5h3.6M192 97.5h3.6M192 100.5h3.6M189 103.5h3.6M180 118.5h3.6"/><path stroke="#adadad" d="M123 49.5h3.6M168 49.5h3.6M123 52.5h3.6M180 70.5h3.6M90 88.5h3.6M189 88.5h3.6M174 94.5h3.6M192 94.5h3.6M144 103.5h3.6M147 103.5h3.6M192 103.5h3.6"/><path stroke="#aeaeae" d="M123 55.5h3.6M129 64.5h3.6M141 64.5h3.6M132 67.5h3.6M75 79.5h3.6M150 79.5h3.6M81 82.5h3.6M87 85.5h3.6M165 91.5h3.6M126 100.5h3.6M189 106.5h3.6M183 115.5h3.6M168 124.5h3.6"/><path stroke="#afafaf" d="M171 55.5h3.6M123 58.5h3.6M126 61.5h3.6M174 61.5h3.6M57 73.5h3.6M69 76.5h3.6M183 76.5h3.6M153 85.5h3.6M159 88.5h3.6M114 97.5h3.6M183 100.5h3.6M186 103.5h3.6M159 112.5h3.6M186 112.5h3.6M177 118.5h3.6M165 124.5h3.6"/><path stroke="#b0b0b0" d="M135 67.5h3.6M192 91.5h3.6M129 97.5h3.6M123 100.5h3.6M141 103.5h3.6M162 115.5h3.6M171 121.5h3.6"/><path stroke="#b1b1b1" d="M171 52.5h3.6M177 64.5h3.6M60 73.5h3.6M84 82.5h3.6M195 97.5h3.6M138 103.5h3.6M186 106.5h3.6M186 109.5h3.6"/><path stroke="#b2b2b2" d="M174 58.5h3.6M123 61.5h3.6M63 73.5h3.6M78 79.5h3.6M150 103.5h3.6M180 115.5h3.6"/><path stroke="#b3b3b3" d="M171 49.5h3.6M120 61.5h3.6M120 64.5h3.6M120 67.5h3.6M183 73.5h3.6M72 76.5h3.6M150 82.5h3.6M186 82.5h3.6M117 97.5h3.6M183 112.5h3.6M174 118.5h3.6"/><path stroke="#b4b4b4" d="M180 67.5h3.6M120 70.5h3.6M171 94.5h3.6M195 94.5h3.6M132 97.5h3.6M153 106.5h3.6M165 121.5h3.6"/><path stroke="#b5b5b5" d="M174 55.5h3.6M120 58.5h3.6M177 61.5h3.6M129 67.5h3.6M132 70.5h3.6M147 70.5h3.6M66 73.5h3.6M189 85.5h3.6M183 103.5h3.6M156 109.5h3.6M168 121.5h3.6"/><path stroke="#b6b6b6" d="M120 49.5h3.6M120 52.5h3.6M120 55.5h3.6M123 64.5h3.6M126 64.5h3.6M57 70.5h3.6M81 79.5h3.6M87 82.5h3.6M90 85.5h3.6M93 88.5h3.6M192 88.5h3.6M96 91.5h3.6M135 100.5h3.6M183 109.5h3.6M165 118.5h3.6"/><path stroke="#b7b7b7" d="M174 52.5h3.6M135 70.5h3.6M156 88.5h3.6M162 91.5h3.6M120 97.5h3.6M147 100.5h3.6M183 106.5h3.6M177 115.5h3.6"/><path stroke="#b8b8b8" d="M117 67.5h3.6M138 67.5h3.6M60 70.5h3.6M183 70.5h3.6M69 73.5h3.6M75 76.5h3.6M195 91.5h3.6M99 94.5h3.6M177 97.5h3.6M180 112.5h3.6M171 118.5h3.6"/><path stroke="#b9b9b9" d="M174 49.5h3.6M177 58.5h3.6M180 64.5h3.6M144 100.5h3.6M180 100.5h3.6"/><path stroke="#bababa" d="M117 64.5h3.6M117 70.5h3.6M84 79.5h3.6M186 79.5h3.6M168 94.5h3.6M126 97.5h3.6M168 118.5h3.6"/><path stroke="#bbbbbb" d="M174 46.5h3.6M117 61.5h3.6M63 70.5h3.6M147 73.5h3.6M162 112.5h3.6M165 115.5h3.6"/><path stroke="#bcbcbc" d="M177 55.5h3.6M57 67.5h3.6M144 67.5h3.6M150 85.5h3.6M150 100.5h3.6M153 103.5h3.6M180 109.5h3.6M174 115.5h3.6"/><path stroke="#bdbdbd" d="M180 61.5h3.6M183 67.5h3.6M72 73.5h3.6M132 73.5h3.6M78 76.5h3.6M147 76.5h3.6M129 94.5h3.6M123 97.5h3.6M138 100.5h3.6M141 100.5h3.6"/><path stroke="#bebebe" d="M177 52.5h3.6M123 67.5h3.6M129 70.5h3.6M120 73.5h3.6M135 73.5h3.6M186 76.5h3.6M147 79.5h3.6M90 82.5h3.6M189 82.5h3.6M192 85.5h3.6M195 88.5h3.6M111 94.5h3.6M177 112.5h3.6"/><path stroke="#bfbfbf" d="M60 67.5h3.6M66 70.5h3.6M87 79.5h3.6M93 85.5h3.6M153 88.5h3.6M198 91.5h3.6M114 94.5h3.6M180 103.5h3.6M180 106.5h3.6"/><path stroke="#c0c0c0" d="M117 49.5h3.6M117 58.5h3.6M180 58.5h3.6M141 67.5h3.6M81 76.5h3.6M108 94.5h3.6M132 94.5h3.6M165 94.5h3.6M135 97.5h3.6M171 115.5h3.6"/><path stroke="#c1c1c1" d="M117 52.5h3.6M117 55.5h3.6M183 64.5h3.6M126 67.5h3.6M117 73.5h3.6M186 73.5h3.6M147 82.5h3.6M96 88.5h3.6M117 94.5h3.6M174 97.5h3.6M156 106.5h3.6M159 109.5h3.6M168 115.5h3.6"/><path stroke="#c2c2c2" d="M57 64.5h3.6M138 70.5h3.6M75 73.5h3.6"/><path stroke="#c3c3c3" d="M180 55.5h3.6M63 67.5h3.6M69 70.5h3.6M129 73.5h3.6M159 91.5h3.6"/><path stroke="#c4c4c4" d="M186 70.5h3.6M84 76.5h3.6M132 76.5h3.6M153 100.5h3.6M177 109.5h3.6M165 112.5h3.6"/><path stroke="#c5c5c5" d="M183 61.5h3.6M60 64.5h3.6M135 76.5h3.6M189 79.5h3.6M195 85.5h3.6M198 88.5h3.6M99 91.5h3.6M105 94.5h3.6M174 112.5h3.6"/><path stroke="#c6c6c6" d="M123 70.5h3.6M120 76.5h3.6M90 79.5h3.6M93 82.5h3.6M192 82.5h3.6M120 94.5h3.6M147 97.5h3.6M156 103.5h3.6"/><path stroke="#c7c7c7" d="M183 58.5h3.6M66 67.5h3.6M186 67.5h3.6M72 70.5h3.6M78 73.5h3.6M123 73.5h3.6M138 73.5h3.6M129 76.5h3.6M102 94.5h3.6M126 94.5h3.6M162 94.5h3.6M171 97.5h3.6M177 100.5h3.6"/><path stroke="#c8c8c8" d="M117 76.5h3.6M147 85.5h3.6M129 91.5h3.6M138 97.5h3.6M144 97.5h3.6M150 97.5h3.6M177 106.5h3.6"/><path stroke="#c9c9c9" d="M114 49.5h3.6M63 64.5h3.6M87 76.5h3.6M138 76.5h3.6M150 88.5h3.6M162 109.5h3.6M168 112.5h3.6M171 112.5h3.6"/><path stroke="#cacaca" d="M183 55.5h3.6M60 61.5h3.6M186 64.5h3.6M114 67.5h3.6M114 70.5h3.6M81 73.5h3.6M126 73.5h3.6M123 76.5h3.6M144 76.5h3.6M189 76.5h3.6M144 79.5h3.6M96 85.5h3.6M114 91.5h3.6M141 97.5h3.6M168 97.5h3.6M156 100.5h3.6"/><path stroke="#cbcbcb" d="M75 70.5h3.6M126 70.5h3.6M144 70.5h3.6M126 76.5h3.6M132 79.5h3.6M129 88.5h3.6M201 88.5h3.6M117 91.5h3.6M132 91.5h3.6M177 103.5h3.6"/><path stroke="#cccccc" d="M114 52.5h3.6M69 67.5h3.6M141 70.5h3.6M144 73.5h3.6M189 73.5h3.6M120 79.5h3.6M129 79.5h3.6M198 85.5h3.6M111 91.5h3.6M156 91.5h3.6M123 94.5h3.6M153 97.5h3.6M174 109.5h3.6"/><path stroke="#cdcdcd" d="M60 58.5h3.6M63 61.5h3.6M186 61.5h3.6M66 64.5h3.6M141 76.5h3.6M93 79.5h3.6M135 79.5h3.6M192 79.5h3.6M144 82.5h3.6M195 82.5h3.6M99 88.5h3.6M135 94.5h3.6M165 97.5h3.6M159 106.5h3.6"/><path stroke="#cecece" d="M114 64.5h3.6M189 70.5h3.6M84 73.5h3.6M114 73.5h3.6M141 73.5h3.6M90 76.5h3.6M117 79.5h3.6M138 79.5h3.6M141 79.5h3.6M120 91.5h3.6M126 91.5h3.6M153 91.5h3.6M159 94.5h3.6"/><path stroke="#cfcfcf" d="M114 55.5h3.6M78 70.5h3.6M123 79.5h3.6M96 82.5h3.6M129 85.5h3.6M132 88.5h3.6M108 91.5h3.6M165 109.5h3.6"/><path stroke="#d0d0d0" d="M60 55.5h3.6M63 58.5h3.6M72 67.5h3.6M126 79.5h3.6M126 88.5h3.6M156 97.5h3.6M162 97.5h3.6M174 100.5h3.6M159 103.5h3.6"/><path stroke="#d1d1d1" d="M111 49.5h3.6M114 58.5h3.6M66 61.5h3.6M114 61.5h3.6M189 67.5h3.6M114 76.5h3.6M129 82.5h3.6M201 85.5h3.6M114 88.5h3.6M117 88.5h3.6M102 91.5h3.6M123 91.5h3.6M159 97.5h3.6M159 100.5h3.6M174 106.5h3.6M171 109.5h3.6"/><path stroke="#d2d2d2" d="M60 52.5h3.6M63 55.5h3.6M69 64.5h3.6M81 70.5h3.6M87 73.5h3.6M192 76.5h3.6M117 82.5h3.6M132 82.5h3.6M198 82.5h3.6M99 85.5h3.6M144 85.5h3.6M120 88.5h3.6M147 88.5h3.6M150 91.5h3.6M150 94.5h3.6M153 94.5h3.6M156 94.5h3.6M168 109.5h3.6"/><path stroke="#d3d3d3" d="M66 58.5h3.6M75 67.5h3.6M93 76.5h3.6M96 79.5h3.6M114 79.5h3.6M195 79.5h3.6M120 82.5h3.6M141 82.5h3.6M132 85.5h3.6M111 88.5h3.6M105 91.5h3.6M147 94.5h3.6M162 106.5h3.6"/><path stroke="#d4d4d4" d="M63 52.5h3.6M69 61.5h3.6M114 85.5h3.6M117 85.5h3.6M126 85.5h3.6M123 88.5h3.6M138 94.5h3.6M171 100.5h3.6M174 103.5h3.6"/><path stroke="#d5d5d5" d="M66 55.5h3.6M72 64.5h3.6M78 67.5h3.6M192 73.5h3.6M114 82.5h3.6M126 82.5h3.6M135 82.5h3.6M138 82.5h3.6M120 85.5h3.6M102 88.5h3.6M135 91.5h3.6M141 94.5h3.6M144 94.5h3.6M162 100.5h3.6M168 100.5h3.6"/><path stroke="#d6d6d6" d="M63 49.5h3.6M66 52.5h3.6M111 52.5h3.6M69 58.5h3.6M84 70.5h3.6M90 73.5h3.6M96 76.5h3.6M99 82.5h3.6M108 88.5h3.6M165 100.5h3.6M162 103.5h3.6"/><path stroke="#d7d7d7" d="M63 46.5h3.6M66 49.5h3.6M69 55.5h3.6M72 58.5h3.6M72 61.5h3.6M75 64.5h3.6M192 70.5h3.6M99 79.5h3.6M123 82.5h3.6M111 85.5h3.6M123 85.5h3.6M165 106.5h3.6M171 106.5h3.6"/><path stroke="#d8d8d8" d="M66 46.5h3.6M108 49.5h3.6M69 52.5h3.6M72 55.5h3.6M75 61.5h3.6M81 67.5h3.6M111 82.5h3.6M102 85.5h3.6M141 85.5h3.6M105 88.5h3.6M135 88.5h3.6M147 91.5h3.6M171 103.5h3.6M168 106.5h3.6"/><path stroke="#d9d9d9" d="M69 46.5h3.6M69 49.5h3.6M72 52.5h3.6M75 55.5h3.6M75 58.5h3.6M78 64.5h3.6M192 67.5h3.6M99 76.5h3.6M195 76.5h3.6M111 79.5h3.6M198 79.5h3.6M108 85.5h3.6M144 88.5h3.6M165 103.5h3.6"/><path stroke="#dadada" d="M72 49.5h3.6M75 52.5h3.6M78 61.5h3.6M87 70.5h3.6M111 70.5h3.6M93 73.5h3.6M102 76.5h3.6M111 76.5h3.6M102 79.5h3.6M102 82.5h3.6M105 85.5h3.6M135 85.5h3.6M168 103.5h3.6"/><path stroke="#dbdbdb" d="M72 46.5h3.6M75 49.5h3.6M78 55.5h3.6M111 55.5h3.6M78 58.5h3.6M81 64.5h3.6M111 73.5h3.6M108 82.5h3.6M138 85.5h3.6M138 91.5h3.6M144 91.5h3.6"/><path stroke="#dcdcdc" d="M75 46.5h3.6M78 49.5h3.6M105 49.5h3.6M78 52.5h3.6M108 52.5h3.6M84 67.5h3.6M111 67.5h3.6M96 73.5h3.6M99 73.5h3.6M102 73.5h3.6M195 73.5h3.6M105 79.5h3.6M108 79.5h3.6M105 82.5h3.6M141 88.5h3.6M141 91.5h3.6"/><path stroke="#dddddd" d="M78 46.5h3.6M81 55.5h3.6M81 58.5h3.6M81 61.5h3.6M105 76.5h3.6M201 79.5h3.6M138 88.5h3.6"/><path stroke="#dedede" d="M81 46.5h3.6M99 46.5h3.6M81 49.5h3.6M81 52.5h3.6M195 70.5h3.6M108 76.5h3.6M198 76.5h3.6"/><path stroke="#dfdfdf" d="M84 46.5h3.6M84 49.5h3.6M102 49.5h3.6M105 52.5h3.6M84 64.5h3.6M90 70.5h3.6M105 73.5h3.6M108 73.5h3.6"/><path stroke="#e0e0e0" d="M87 46.5h3.6M96 46.5h3.6M84 52.5h3.6M84 55.5h3.6M84 58.5h3.6M84 61.5h3.6M195 67.5h3.6"/><path stroke="#e1e1e1" d="M90 46.5h3.6M93 46.5h3.6M87 49.5h3.6M99 49.5h3.6M108 55.5h3.6M87 67.5h3.6M102 70.5h3.6M108 70.5h3.6"/><path stroke="#e2e2e2" d="M90 49.5h3.6M96 49.5h3.6M87 52.5h3.6M102 52.5h3.6M111 58.5h3.6M99 70.5h3.6M105 70.5h3.6M198 73.5h3.6M201 76.5h3.6"/><path stroke="#e3e3e3" d="M93 49.5h3.6M87 55.5h3.6M105 55.5h3.6M87 58.5h3.6M87 61.5h3.6M111 64.5h3.6M93 70.5h3.6"/><path stroke="#e4e4e4" d="M90 52.5h3.6M99 52.5h3.6M102 55.5h3.6M87 64.5h3.6M96 70.5h3.6M198 70.5h3.6"/><path stroke="#e5e5e5" d="M93 52.5h3.6M96 52.5h3.6M102 58.5h3.6M102 61.5h3.6M108 67.5h3.6"/><path stroke="#e6e6e6" d="M90 55.5h3.6M99 55.5h3.6M105 58.5h3.6M90 67.5h3.6M102 67.5h3.6M105 67.5h3.6M198 67.5h3.6"/><path stroke="#e7e7e7" d="M105 61.5h3.6M102 64.5h3.6M105 64.5h3.6"/><path stroke="#e8e8e8" d="M93 55.5h3.6M96 55.5h3.6M90 58.5h3.6M108 58.5h3.6M111 61.5h3.6"/><path stroke="#e9e9e9" d="M99 58.5h3.6M99 67.5h3.6M201 70.5h3.6"/><path stroke="#eaeaea" d="M90 61.5h3.6M90 64.5h3.6M108 64.5h3.6"/><path stroke="#ebebeb" d="M93 67.5h3.6"/><path stroke="#ececec" d="M93 58.5h3.6M96 58.5h3.6M99 61.5h3.6M108 61.5h3.6M201 67.5h3.6"/><path stroke="#ededed" d="M99 64.5h3.6M96 67.5h3.6"/><path stroke="#f0f0f0" d="M93 61.5h3.6"/><path stroke="#f1f1f1" d="M96 61.5h3.6M93 64.5h3.6"/><path stroke="#f3f3f3" d="M96 64.5h3.6"/></g></g>
<use href="#ov"/>
<text x="127.4" y="18.6" font-size="16.8" font-weight="bold" text-anchor="middle" fill="#111">15/10/2003</text>
<path d="M57.2 208.8v-1.8M91.3 208.8v-1.8M125.3 208.8v-1.8M159.4 208.8v-1.8M193.4 208.8v-1.8" stroke="#222" stroke-width="0.6"/>
<g font-size="13.4" fill="#222" text-anchor="middle"><text x="57.2" y="227.7">-50</text><text x="91.3" y="227.7">-40</text><text x="125.3" y="227.7">-30</text><text x="159.4" y="227.7">-20</text><text x="193.4" y="227.7">-10</text></g>
</g>
</svg>
</body></html>
